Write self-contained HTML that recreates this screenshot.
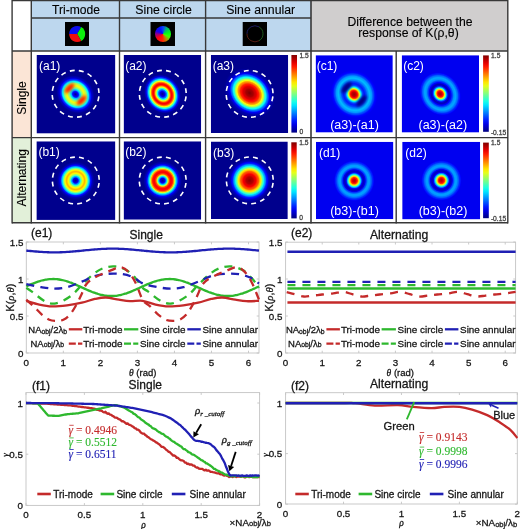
<!DOCTYPE html>
<html><head><meta charset="utf-8"><style>
html,body{margin:0;padding:0;background:#fff;}
body{width:520px;height:529px;overflow:hidden;position:relative;}
svg{position:absolute;left:0;top:0;}
svg text{font-family:"Liberation Sans",Arial,sans-serif;stroke-width:0.28px;}
svg text.h{stroke-width:0.12px;}
.sc{position:absolute;left:154.8px;top:25.8px;width:16px;height:16px;border-radius:50%;
background:conic-gradient(from 0deg,#0a3cff 0deg,#00b870 35deg,#00ff10 80deg,#40ff00 115deg,#c08000 150deg,#ff2000 185deg,#ff0010 230deg,#a0007a 265deg,#2000f0 295deg,#0010ff 330deg,#0a3cff 360deg);filter:blur(0.6px);}
</style></head><body>
<svg width="520" height="529" viewBox="0 0 520 529">
<defs>
<filter id="blur1" x="-50%" y="-50%" width="200%" height="200%"><feGaussianBlur stdDeviation="1.6"/></filter>
<filter id="soft" x="-20%" y="-20%" width="140%" height="140%"><feGaussianBlur stdDeviation="0.4"/></filter>
<radialGradient id="g1" gradientUnits="userSpaceOnUse" cx="0" cy="0" r="24"><stop offset="0.000" stop-color="#00008d"/><stop offset="0.025" stop-color="#00009d"/><stop offset="0.050" stop-color="#0000c0"/><stop offset="0.075" stop-color="#0000e5"/><stop offset="0.100" stop-color="#0000f9"/><stop offset="0.125" stop-color="#001cff"/><stop offset="0.150" stop-color="#0076ff"/><stop offset="0.175" stop-color="#00c4ff"/><stop offset="0.200" stop-color="#00ddff"/><stop offset="0.225" stop-color="#25ffda"/><stop offset="0.250" stop-color="#76ff89"/><stop offset="0.275" stop-color="#95ff6a"/><stop offset="0.300" stop-color="#b1ff4e"/><stop offset="0.325" stop-color="#ddff22"/><stop offset="0.350" stop-color="#f9ff06"/><stop offset="0.375" stop-color="#efff10"/><stop offset="0.400" stop-color="#d1ff2e"/><stop offset="0.425" stop-color="#b7ff48"/><stop offset="0.450" stop-color="#a8ff57"/><stop offset="0.475" stop-color="#69ff96"/><stop offset="0.500" stop-color="#20ffdf"/><stop offset="0.525" stop-color="#04fffb"/><stop offset="0.550" stop-color="#00c8ff"/><stop offset="0.575" stop-color="#006aff"/><stop offset="0.600" stop-color="#002fff"/><stop offset="0.625" stop-color="#001cff"/><stop offset="0.650" stop-color="#0000ec"/><stop offset="0.675" stop-color="#0000c4"/><stop offset="0.700" stop-color="#0000bb"/><stop offset="0.725" stop-color="#0000af"/><stop offset="0.750" stop-color="#00009e"/><stop offset="0.775" stop-color="#000090"/><stop offset="0.800" stop-color="#00008d"/><stop offset="0.825" stop-color="#00008d"/><stop offset="0.850" stop-color="#00008d"/><stop offset="0.875" stop-color="#00008d"/><stop offset="0.900" stop-color="#00008d"/><stop offset="0.925" stop-color="#00008d"/><stop offset="0.950" stop-color="#00008d"/><stop offset="0.975" stop-color="#00008d"/><stop offset="1.000" stop-color="#00008d"/></radialGradient>
<clipPath id="c1"><rect x="36.5" y="55" width="78.9" height="78.6"/></clipPath>
<radialGradient id="g2" gradientUnits="userSpaceOnUse" cx="0" cy="0" r="24"><stop offset="0.000" stop-color="#00008d"/><stop offset="0.025" stop-color="#00009c"/><stop offset="0.050" stop-color="#0000b9"/><stop offset="0.075" stop-color="#0000cf"/><stop offset="0.100" stop-color="#0000e3"/><stop offset="0.125" stop-color="#0025ff"/><stop offset="0.150" stop-color="#005cff"/><stop offset="0.175" stop-color="#0089ff"/><stop offset="0.200" stop-color="#05fffa"/><stop offset="0.225" stop-color="#39ffc6"/><stop offset="0.250" stop-color="#aaff55"/><stop offset="0.275" stop-color="#faff05"/><stop offset="0.300" stop-color="#ffad00"/><stop offset="0.325" stop-color="#ff5700"/><stop offset="0.350" stop-color="#ff1b00"/><stop offset="0.375" stop-color="#fb0000"/><stop offset="0.400" stop-color="#ff0400"/><stop offset="0.425" stop-color="#ff2100"/><stop offset="0.450" stop-color="#ff5f00"/><stop offset="0.475" stop-color="#ff9e00"/><stop offset="0.500" stop-color="#fdff02"/><stop offset="0.525" stop-color="#beff41"/><stop offset="0.550" stop-color="#46ffb9"/><stop offset="0.575" stop-color="#19ffe6"/><stop offset="0.600" stop-color="#00a9ff"/><stop offset="0.625" stop-color="#0061ff"/><stop offset="0.650" stop-color="#0034ff"/><stop offset="0.675" stop-color="#0000e7"/><stop offset="0.700" stop-color="#0000cf"/><stop offset="0.725" stop-color="#0000b7"/><stop offset="0.750" stop-color="#000098"/><stop offset="0.775" stop-color="#00008d"/><stop offset="0.800" stop-color="#00008d"/><stop offset="0.825" stop-color="#00008d"/><stop offset="0.850" stop-color="#00008d"/><stop offset="0.875" stop-color="#00008d"/><stop offset="0.900" stop-color="#00008d"/><stop offset="0.925" stop-color="#00008d"/><stop offset="0.950" stop-color="#00008d"/><stop offset="0.975" stop-color="#00008d"/><stop offset="1.000" stop-color="#00008d"/></radialGradient>
<clipPath id="c2"><rect x="123.6" y="55" width="77.6" height="78.6"/></clipPath>
<radialGradient id="g3" gradientUnits="userSpaceOnUse" cx="0" cy="0" r="24"><stop offset="0.000" stop-color="#800000"/><stop offset="0.025" stop-color="#840000"/><stop offset="0.050" stop-color="#8e0000"/><stop offset="0.075" stop-color="#980000"/><stop offset="0.100" stop-color="#9e0000"/><stop offset="0.125" stop-color="#a30000"/><stop offset="0.150" stop-color="#b30000"/><stop offset="0.175" stop-color="#c50000"/><stop offset="0.200" stop-color="#d00000"/><stop offset="0.225" stop-color="#d60000"/><stop offset="0.250" stop-color="#ea0000"/><stop offset="0.275" stop-color="#ff0400"/><stop offset="0.300" stop-color="#ff1700"/><stop offset="0.325" stop-color="#ff2000"/><stop offset="0.350" stop-color="#ff4900"/><stop offset="0.375" stop-color="#ff7800"/><stop offset="0.400" stop-color="#ff8b00"/><stop offset="0.425" stop-color="#ffb800"/><stop offset="0.450" stop-color="#ffff00"/><stop offset="0.475" stop-color="#d2ff2d"/><stop offset="0.500" stop-color="#b4ff4b"/><stop offset="0.525" stop-color="#68ff97"/><stop offset="0.550" stop-color="#25ffda"/><stop offset="0.575" stop-color="#0ffff0"/><stop offset="0.600" stop-color="#00cfff"/><stop offset="0.625" stop-color="#0086ff"/><stop offset="0.650" stop-color="#006aff"/><stop offset="0.675" stop-color="#003fff"/><stop offset="0.700" stop-color="#0000ff"/><stop offset="0.725" stop-color="#0000e5"/><stop offset="0.750" stop-color="#0000d4"/><stop offset="0.775" stop-color="#0000ba"/><stop offset="0.800" stop-color="#0000a9"/><stop offset="0.825" stop-color="#0000a6"/><stop offset="0.850" stop-color="#00009e"/><stop offset="0.875" stop-color="#000095"/><stop offset="0.900" stop-color="#00008e"/><stop offset="0.925" stop-color="#00008d"/><stop offset="0.950" stop-color="#00008d"/><stop offset="0.975" stop-color="#00008d"/><stop offset="1.000" stop-color="#00008d"/></radialGradient>
<clipPath id="c3"><rect x="210.8" y="55" width="77.4" height="78"/></clipPath>
<linearGradient id="cb4" x1="0" y1="0" x2="0" y2="1"><stop offset="0.000" stop-color="#800000"/><stop offset="0.050" stop-color="#b30000"/><stop offset="0.100" stop-color="#e50000"/><stop offset="0.150" stop-color="#ff1a00"/><stop offset="0.200" stop-color="#ff4c00"/><stop offset="0.250" stop-color="#ff8000"/><stop offset="0.300" stop-color="#ffb300"/><stop offset="0.350" stop-color="#ffe500"/><stop offset="0.400" stop-color="#e5ff1a"/><stop offset="0.450" stop-color="#b3ff4c"/><stop offset="0.500" stop-color="#80ff80"/><stop offset="0.550" stop-color="#4cffb3"/><stop offset="0.600" stop-color="#1affe5"/><stop offset="0.650" stop-color="#00e5ff"/><stop offset="0.700" stop-color="#00b3ff"/><stop offset="0.750" stop-color="#0080ff"/><stop offset="0.800" stop-color="#004cff"/><stop offset="0.850" stop-color="#001aff"/><stop offset="0.900" stop-color="#0000e5"/><stop offset="0.950" stop-color="#0000b3"/><stop offset="1.000" stop-color="#000080"/></linearGradient>
<radialGradient id="g5" gradientUnits="userSpaceOnUse" cx="0" cy="0" r="26"><stop offset="0.000" stop-color="#9e0000"/><stop offset="0.025" stop-color="#a70000"/><stop offset="0.050" stop-color="#b70000"/><stop offset="0.075" stop-color="#bf0000"/><stop offset="0.100" stop-color="#e60000"/><stop offset="0.125" stop-color="#ff0d00"/><stop offset="0.150" stop-color="#ff4f00"/><stop offset="0.175" stop-color="#ffca00"/><stop offset="0.200" stop-color="#d8ff27"/><stop offset="0.225" stop-color="#4effb1"/><stop offset="0.250" stop-color="#00e9ff"/><stop offset="0.275" stop-color="#009aff"/><stop offset="0.300" stop-color="#0053ff"/><stop offset="0.325" stop-color="#0035ff"/><stop offset="0.350" stop-color="#0020ff"/><stop offset="0.375" stop-color="#001dff"/><stop offset="0.400" stop-color="#0034ff"/><stop offset="0.425" stop-color="#0043ff"/><stop offset="0.450" stop-color="#005fff"/><stop offset="0.475" stop-color="#0085ff"/><stop offset="0.500" stop-color="#0091ff"/><stop offset="0.525" stop-color="#00acff"/><stop offset="0.550" stop-color="#00bdff"/><stop offset="0.575" stop-color="#00b3ff"/><stop offset="0.600" stop-color="#00a2ff"/><stop offset="0.625" stop-color="#0099ff"/><stop offset="0.650" stop-color="#0072ff"/><stop offset="0.675" stop-color="#004eff"/><stop offset="0.700" stop-color="#003fff"/><stop offset="0.725" stop-color="#001aff"/><stop offset="0.750" stop-color="#0005ff"/><stop offset="0.775" stop-color="#0000ff"/><stop offset="0.800" stop-color="#0000f5"/><stop offset="0.825" stop-color="#0000f0"/><stop offset="0.850" stop-color="#0000f0"/><stop offset="0.875" stop-color="#0000f0"/><stop offset="0.900" stop-color="#0000f0"/><stop offset="0.925" stop-color="#0000f0"/><stop offset="0.950" stop-color="#0000f0"/><stop offset="0.975" stop-color="#0000f0"/><stop offset="1.000" stop-color="#0000f0"/></radialGradient>
<clipPath id="c5"><rect x="315.6" y="55.2" width="77.2" height="77.4"/></clipPath>
<radialGradient id="g6" gradientUnits="userSpaceOnUse" cx="0" cy="0" r="26"><stop offset="0.000" stop-color="#a80000"/><stop offset="0.025" stop-color="#b50000"/><stop offset="0.050" stop-color="#c50000"/><stop offset="0.075" stop-color="#d90000"/><stop offset="0.100" stop-color="#ff0b00"/><stop offset="0.125" stop-color="#ff2c00"/><stop offset="0.150" stop-color="#ffb000"/><stop offset="0.175" stop-color="#fff400"/><stop offset="0.200" stop-color="#65ff9a"/><stop offset="0.225" stop-color="#14ffeb"/><stop offset="0.250" stop-color="#0084ff"/><stop offset="0.275" stop-color="#003dff"/><stop offset="0.300" stop-color="#0000e6"/><stop offset="0.325" stop-color="#0000cf"/><stop offset="0.350" stop-color="#0000b3"/><stop offset="0.375" stop-color="#0000c7"/><stop offset="0.400" stop-color="#0000ec"/><stop offset="0.425" stop-color="#0000ff"/><stop offset="0.450" stop-color="#002fff"/><stop offset="0.475" stop-color="#0044ff"/><stop offset="0.500" stop-color="#006bff"/><stop offset="0.525" stop-color="#0092ff"/><stop offset="0.550" stop-color="#0098ff"/><stop offset="0.575" stop-color="#00a3ff"/><stop offset="0.600" stop-color="#00a8ff"/><stop offset="0.625" stop-color="#0093ff"/><stop offset="0.650" stop-color="#007aff"/><stop offset="0.675" stop-color="#006dff"/><stop offset="0.700" stop-color="#0046ff"/><stop offset="0.725" stop-color="#0025ff"/><stop offset="0.750" stop-color="#001aff"/><stop offset="0.775" stop-color="#0000ff"/><stop offset="0.800" stop-color="#0000f0"/><stop offset="0.825" stop-color="#0000f0"/><stop offset="0.850" stop-color="#0000f0"/><stop offset="0.875" stop-color="#0000f0"/><stop offset="0.900" stop-color="#0000f0"/><stop offset="0.925" stop-color="#0000f0"/><stop offset="0.950" stop-color="#0000f0"/><stop offset="0.975" stop-color="#0000f0"/><stop offset="1.000" stop-color="#0000f0"/></radialGradient>
<clipPath id="c6"><rect x="401.7" y="55.2" width="77.3" height="77.4"/></clipPath>
<linearGradient id="cb7" x1="0" y1="0" x2="0" y2="1"><stop offset="0.000" stop-color="#800000"/><stop offset="0.050" stop-color="#b30000"/><stop offset="0.100" stop-color="#e50000"/><stop offset="0.150" stop-color="#ff1a00"/><stop offset="0.200" stop-color="#ff4c00"/><stop offset="0.250" stop-color="#ff8000"/><stop offset="0.300" stop-color="#ffb300"/><stop offset="0.350" stop-color="#ffe500"/><stop offset="0.400" stop-color="#e5ff1a"/><stop offset="0.450" stop-color="#b3ff4c"/><stop offset="0.500" stop-color="#80ff80"/><stop offset="0.550" stop-color="#4cffb3"/><stop offset="0.600" stop-color="#1affe5"/><stop offset="0.650" stop-color="#00e5ff"/><stop offset="0.700" stop-color="#00b3ff"/><stop offset="0.750" stop-color="#0080ff"/><stop offset="0.800" stop-color="#004cff"/><stop offset="0.850" stop-color="#001aff"/><stop offset="0.900" stop-color="#0000e5"/><stop offset="0.950" stop-color="#0000b3"/><stop offset="1.000" stop-color="#000080"/></linearGradient>
<radialGradient id="g8" gradientUnits="userSpaceOnUse" cx="0" cy="0" r="24"><stop offset="0.000" stop-color="#00008d"/><stop offset="0.025" stop-color="#00009d"/><stop offset="0.050" stop-color="#0000bf"/><stop offset="0.075" stop-color="#0000de"/><stop offset="0.100" stop-color="#0000ec"/><stop offset="0.125" stop-color="#003cff"/><stop offset="0.150" stop-color="#0099ff"/><stop offset="0.175" stop-color="#00baff"/><stop offset="0.200" stop-color="#11ffee"/><stop offset="0.225" stop-color="#78ff87"/><stop offset="0.250" stop-color="#99ff66"/><stop offset="0.275" stop-color="#ccff33"/><stop offset="0.300" stop-color="#fffa00"/><stop offset="0.325" stop-color="#ffe900"/><stop offset="0.350" stop-color="#ffc800"/><stop offset="0.375" stop-color="#ffb300"/><stop offset="0.400" stop-color="#ffc800"/><stop offset="0.425" stop-color="#ffe900"/><stop offset="0.450" stop-color="#ffff00"/><stop offset="0.475" stop-color="#b2ff4d"/><stop offset="0.500" stop-color="#80ff80"/><stop offset="0.525" stop-color="#3fffc0"/><stop offset="0.550" stop-color="#00daff"/><stop offset="0.575" stop-color="#00b8ff"/><stop offset="0.600" stop-color="#0063ff"/><stop offset="0.625" stop-color="#0016ff"/><stop offset="0.650" stop-color="#0004ff"/><stop offset="0.675" stop-color="#0000d9"/><stop offset="0.700" stop-color="#0000b6"/><stop offset="0.725" stop-color="#0000af"/><stop offset="0.750" stop-color="#0000a0"/><stop offset="0.775" stop-color="#000091"/><stop offset="0.800" stop-color="#00008d"/><stop offset="0.825" stop-color="#00008d"/><stop offset="0.850" stop-color="#00008d"/><stop offset="0.875" stop-color="#00008d"/><stop offset="0.900" stop-color="#00008d"/><stop offset="0.925" stop-color="#00008d"/><stop offset="0.950" stop-color="#00008d"/><stop offset="0.975" stop-color="#00008d"/><stop offset="1.000" stop-color="#00008d"/></radialGradient>
<clipPath id="c8"><rect x="36.4" y="141.3" width="79" height="78.6"/></clipPath>
<radialGradient id="g9" gradientUnits="userSpaceOnUse" cx="0" cy="0" r="24"><stop offset="0.000" stop-color="#00008d"/><stop offset="0.025" stop-color="#00009d"/><stop offset="0.050" stop-color="#0000bf"/><stop offset="0.075" stop-color="#0000de"/><stop offset="0.100" stop-color="#0000ee"/><stop offset="0.125" stop-color="#004dff"/><stop offset="0.150" stop-color="#00aaff"/><stop offset="0.175" stop-color="#00e5ff"/><stop offset="0.200" stop-color="#80ff7f"/><stop offset="0.225" stop-color="#c1ff3e"/><stop offset="0.250" stop-color="#ffb100"/><stop offset="0.275" stop-color="#ff4c00"/><stop offset="0.300" stop-color="#ff3300"/><stop offset="0.325" stop-color="#ff0800"/><stop offset="0.350" stop-color="#fb0000"/><stop offset="0.375" stop-color="#ff0500"/><stop offset="0.400" stop-color="#ff0e00"/><stop offset="0.425" stop-color="#ff2800"/><stop offset="0.450" stop-color="#ff7900"/><stop offset="0.475" stop-color="#ffa200"/><stop offset="0.500" stop-color="#e5ff1a"/><stop offset="0.525" stop-color="#6fff90"/><stop offset="0.550" stop-color="#36ffc9"/><stop offset="0.575" stop-color="#00c2ff"/><stop offset="0.600" stop-color="#0097ff"/><stop offset="0.625" stop-color="#004dff"/><stop offset="0.650" stop-color="#0002ff"/><stop offset="0.675" stop-color="#0000f0"/><stop offset="0.700" stop-color="#0000cd"/><stop offset="0.725" stop-color="#0000b3"/><stop offset="0.750" stop-color="#0000ad"/><stop offset="0.775" stop-color="#00009d"/><stop offset="0.800" stop-color="#00008f"/><stop offset="0.825" stop-color="#00008d"/><stop offset="0.850" stop-color="#00008d"/><stop offset="0.875" stop-color="#00008d"/><stop offset="0.900" stop-color="#00008d"/><stop offset="0.925" stop-color="#00008d"/><stop offset="0.950" stop-color="#00008d"/><stop offset="0.975" stop-color="#00008d"/><stop offset="1.000" stop-color="#00008d"/></radialGradient>
<clipPath id="c9"><rect x="123.6" y="141.3" width="77.6" height="78.4"/></clipPath>
<radialGradient id="g10" gradientUnits="userSpaceOnUse" cx="0" cy="0" r="26"><stop offset="0.000" stop-color="#8a0000"/><stop offset="0.025" stop-color="#8e0000"/><stop offset="0.050" stop-color="#970000"/><stop offset="0.075" stop-color="#a20000"/><stop offset="0.100" stop-color="#a80000"/><stop offset="0.125" stop-color="#ad0000"/><stop offset="0.150" stop-color="#bd0000"/><stop offset="0.175" stop-color="#d20000"/><stop offset="0.200" stop-color="#e20000"/><stop offset="0.225" stop-color="#e80000"/><stop offset="0.250" stop-color="#fd0000"/><stop offset="0.275" stop-color="#ff1f00"/><stop offset="0.300" stop-color="#ff3e00"/><stop offset="0.325" stop-color="#ff4c00"/><stop offset="0.350" stop-color="#ff6500"/><stop offset="0.375" stop-color="#ff9d00"/><stop offset="0.400" stop-color="#ffd000"/><stop offset="0.425" stop-color="#ffe200"/><stop offset="0.450" stop-color="#dcff23"/><stop offset="0.475" stop-color="#8aff75"/><stop offset="0.500" stop-color="#61ff9e"/><stop offset="0.525" stop-color="#3cffc3"/><stop offset="0.550" stop-color="#00f2ff"/><stop offset="0.575" stop-color="#00b9ff"/><stop offset="0.600" stop-color="#00a4ff"/><stop offset="0.625" stop-color="#0066ff"/><stop offset="0.650" stop-color="#0025ff"/><stop offset="0.675" stop-color="#000eff"/><stop offset="0.700" stop-color="#0000f3"/><stop offset="0.725" stop-color="#0000cb"/><stop offset="0.750" stop-color="#0000b3"/><stop offset="0.775" stop-color="#0000ad"/><stop offset="0.800" stop-color="#0000a0"/><stop offset="0.825" stop-color="#000092"/><stop offset="0.850" stop-color="#00008d"/><stop offset="0.875" stop-color="#00008d"/><stop offset="0.900" stop-color="#00008d"/><stop offset="0.925" stop-color="#00008d"/><stop offset="0.950" stop-color="#00008d"/><stop offset="0.975" stop-color="#00008d"/><stop offset="1.000" stop-color="#00008d"/></radialGradient>
<clipPath id="c10"><rect x="211" y="141.5" width="76.8" height="77.6"/></clipPath>
<linearGradient id="cb11" x1="0" y1="0" x2="0" y2="1"><stop offset="0.000" stop-color="#800000"/><stop offset="0.050" stop-color="#b30000"/><stop offset="0.100" stop-color="#e50000"/><stop offset="0.150" stop-color="#ff1a00"/><stop offset="0.200" stop-color="#ff4c00"/><stop offset="0.250" stop-color="#ff8000"/><stop offset="0.300" stop-color="#ffb300"/><stop offset="0.350" stop-color="#ffe500"/><stop offset="0.400" stop-color="#e5ff1a"/><stop offset="0.450" stop-color="#b3ff4c"/><stop offset="0.500" stop-color="#80ff80"/><stop offset="0.550" stop-color="#4cffb3"/><stop offset="0.600" stop-color="#1affe5"/><stop offset="0.650" stop-color="#00e5ff"/><stop offset="0.700" stop-color="#00b3ff"/><stop offset="0.750" stop-color="#0080ff"/><stop offset="0.800" stop-color="#004cff"/><stop offset="0.850" stop-color="#001aff"/><stop offset="0.900" stop-color="#0000e5"/><stop offset="0.950" stop-color="#0000b3"/><stop offset="1.000" stop-color="#000080"/></linearGradient>
<radialGradient id="g12" gradientUnits="userSpaceOnUse" cx="0" cy="0" r="26"><stop offset="0.000" stop-color="#b30000"/><stop offset="0.025" stop-color="#bf0000"/><stop offset="0.050" stop-color="#d00000"/><stop offset="0.075" stop-color="#e30000"/><stop offset="0.100" stop-color="#ff1500"/><stop offset="0.125" stop-color="#ff3200"/><stop offset="0.150" stop-color="#ffa100"/><stop offset="0.175" stop-color="#ffe600"/><stop offset="0.200" stop-color="#afff50"/><stop offset="0.225" stop-color="#34ffcb"/><stop offset="0.250" stop-color="#00d6ff"/><stop offset="0.275" stop-color="#0079ff"/><stop offset="0.300" stop-color="#000eff"/><stop offset="0.325" stop-color="#0000e2"/><stop offset="0.350" stop-color="#0000c6"/><stop offset="0.375" stop-color="#0000c1"/><stop offset="0.400" stop-color="#0000dc"/><stop offset="0.425" stop-color="#0000ee"/><stop offset="0.450" stop-color="#002fff"/><stop offset="0.475" stop-color="#004fff"/><stop offset="0.500" stop-color="#0075ff"/><stop offset="0.525" stop-color="#009cff"/><stop offset="0.550" stop-color="#009eff"/><stop offset="0.575" stop-color="#009eff"/><stop offset="0.600" stop-color="#0099ff"/><stop offset="0.625" stop-color="#007bff"/><stop offset="0.650" stop-color="#006aff"/><stop offset="0.675" stop-color="#004eff"/><stop offset="0.700" stop-color="#002aff"/><stop offset="0.725" stop-color="#001fff"/><stop offset="0.750" stop-color="#0006ff"/><stop offset="0.775" stop-color="#0000f1"/><stop offset="0.800" stop-color="#0000f0"/><stop offset="0.825" stop-color="#0000f0"/><stop offset="0.850" stop-color="#0000f0"/><stop offset="0.875" stop-color="#0000f0"/><stop offset="0.900" stop-color="#0000f0"/><stop offset="0.925" stop-color="#0000f0"/><stop offset="0.950" stop-color="#0000f0"/><stop offset="0.975" stop-color="#0000f0"/><stop offset="1.000" stop-color="#0000f0"/></radialGradient>
<clipPath id="c12"><rect x="316" y="141.8" width="77.4" height="77.4"/></clipPath>
<radialGradient id="g13" gradientUnits="userSpaceOnUse" cx="0" cy="0" r="26"><stop offset="0.000" stop-color="#b30000"/><stop offset="0.025" stop-color="#bf0000"/><stop offset="0.050" stop-color="#d00000"/><stop offset="0.075" stop-color="#e30000"/><stop offset="0.100" stop-color="#ff1500"/><stop offset="0.125" stop-color="#ff3400"/><stop offset="0.150" stop-color="#ffad00"/><stop offset="0.175" stop-color="#ffed00"/><stop offset="0.200" stop-color="#8aff75"/><stop offset="0.225" stop-color="#2dffd2"/><stop offset="0.250" stop-color="#00b4ff"/><stop offset="0.275" stop-color="#006eff"/><stop offset="0.300" stop-color="#0000fd"/><stop offset="0.325" stop-color="#0000de"/><stop offset="0.350" stop-color="#0000c2"/><stop offset="0.375" stop-color="#0000c4"/><stop offset="0.400" stop-color="#0000e0"/><stop offset="0.425" stop-color="#0000f5"/><stop offset="0.450" stop-color="#0038ff"/><stop offset="0.475" stop-color="#0052ff"/><stop offset="0.500" stop-color="#007dff"/><stop offset="0.525" stop-color="#009eff"/><stop offset="0.550" stop-color="#009eff"/><stop offset="0.575" stop-color="#009eff"/><stop offset="0.600" stop-color="#0095ff"/><stop offset="0.625" stop-color="#0076ff"/><stop offset="0.650" stop-color="#0068ff"/><stop offset="0.675" stop-color="#0047ff"/><stop offset="0.700" stop-color="#0026ff"/><stop offset="0.725" stop-color="#001cff"/><stop offset="0.750" stop-color="#0002ff"/><stop offset="0.775" stop-color="#0000f0"/><stop offset="0.800" stop-color="#0000f0"/><stop offset="0.825" stop-color="#0000f0"/><stop offset="0.850" stop-color="#0000f0"/><stop offset="0.875" stop-color="#0000f0"/><stop offset="0.900" stop-color="#0000f0"/><stop offset="0.925" stop-color="#0000f0"/><stop offset="0.950" stop-color="#0000f0"/><stop offset="0.975" stop-color="#0000f0"/><stop offset="1.000" stop-color="#0000f0"/></radialGradient>
<clipPath id="c13"><rect x="402.2" y="141.8" width="78" height="77.6"/></clipPath>
<linearGradient id="cb14" x1="0" y1="0" x2="0" y2="1"><stop offset="0.000" stop-color="#800000"/><stop offset="0.050" stop-color="#b30000"/><stop offset="0.100" stop-color="#e50000"/><stop offset="0.150" stop-color="#ff1a00"/><stop offset="0.200" stop-color="#ff4c00"/><stop offset="0.250" stop-color="#ff8000"/><stop offset="0.300" stop-color="#ffb300"/><stop offset="0.350" stop-color="#ffe500"/><stop offset="0.400" stop-color="#e5ff1a"/><stop offset="0.450" stop-color="#b3ff4c"/><stop offset="0.500" stop-color="#80ff80"/><stop offset="0.550" stop-color="#4cffb3"/><stop offset="0.600" stop-color="#1affe5"/><stop offset="0.650" stop-color="#00e5ff"/><stop offset="0.700" stop-color="#00b3ff"/><stop offset="0.750" stop-color="#0080ff"/><stop offset="0.800" stop-color="#004cff"/><stop offset="0.850" stop-color="#001aff"/><stop offset="0.900" stop-color="#0000e5"/><stop offset="0.950" stop-color="#0000b3"/><stop offset="1.000" stop-color="#000080"/></linearGradient>
</defs>
<rect x="12" y="0" width="19" height="51" fill="#ffffff"/>
<rect x="31" y="0" width="280" height="51" fill="#bdd7ee"/>
<rect x="311" y="0" width="197" height="51" fill="#d0cece"/>
<rect x="12" y="51" width="19" height="86.5" fill="#fbe5d6"/>
<rect x="12" y="137.5" width="19" height="85.5" fill="#e2f0d9"/>
<text class="h" x="76" y="14" font-size="12.1" fill="#000" text-anchor="middle" stroke="#000">Tri-mode</text>
<text class="h" x="163.6" y="14" font-size="12.3" fill="#000" text-anchor="middle" stroke="#000">Sine circle</text>
<text class="h" x="260.7" y="14" font-size="12.3" fill="#000" text-anchor="middle" stroke="#000">Sine annular</text>
<text class="h" x="410" y="25.6" font-size="12.2" fill="#000" text-anchor="middle" stroke="#000">Difference between the</text>
<text class="h" x="408.5" y="37.2" font-size="12.2" fill="#000" text-anchor="middle" stroke="#000">response of K(ρ,θ)</text>
<text class="h" transform="translate(26.3 98) rotate(-90)" font-size="12" fill="#000" text-anchor="middle" stroke="#000">Single</text>
<text class="h" transform="translate(26.3 177.8) rotate(-90)" font-size="12" fill="#000" text-anchor="middle" stroke="#000">Alternating</text>
<rect x="65" y="22" width="24" height="24" fill="#000"/>
<g filter="url(#soft)"><path d="M77.2 34 L69.20 34.00 A8 8 0 0 1 81.20 27.07 Z" fill="#1010f0"/><path d="M77.2 34 L81.20 27.07 A8 8 0 0 1 81.20 40.93 Z" fill="#10ee10"/><path d="M77.2 34 L81.20 40.93 A8 8 0 0 1 69.20 34.00 Z" fill="#f01010"/></g>
<rect x="150.5" y="22" width="24.5" height="24" fill="#000"/>
<rect x="242.7" y="22" width="24.3" height="24" fill="#000"/>
<g fill="none" stroke-width="1" opacity="0.6"><path d="M247 33.8 A8 8 0 0 1 259 26.87" stroke="#3030a0"/><path d="M259 26.87 A8 8 0 0 1 259 40.73" stroke="#309030"/><path d="M259 40.73 A8 8 0 0 1 247 33.8" stroke="#903020"/></g>
<g clip-path="url(#c1)"><rect x="36.5" y="55" width="78.9" height="78.6" fill="#00008d"/><g transform="translate(75.5 94.3) rotate(45) scale(1.08 0.94)"><circle r="24" fill="url(#g1)"/></g><g transform="translate(75.5 94.3) rotate(-45)"><g filter="url(#blur1)" fill="#ff1800"><ellipse cx="0" cy="-8.6" rx="6.2" ry="2.6"/><ellipse cx="0" cy="8.6" rx="6.2" ry="2.6"/></g></g></g>
<circle cx="75.6" cy="93.8" r="23.4" fill="none" stroke="#fff" stroke-width="1.6" stroke-dasharray="4.9 4.29" stroke-dashoffset="6.6"/>
<text class="h" x="39" y="69.7" font-size="12" fill="#fff" text-anchor="start">(a1)</text>
<g clip-path="url(#c2)"><rect x="123.6" y="55" width="77.6" height="78.6" fill="#00008d"/><g transform="translate(162.5 94) rotate(55) scale(1.1 0.95)"><circle r="24" fill="url(#g2)"/></g></g>
<circle cx="162.8" cy="93.8" r="23.4" fill="none" stroke="#fff" stroke-width="1.6" stroke-dasharray="4.9 4.29" stroke-dashoffset="6.6"/>
<text class="h" x="125.2" y="69.8" font-size="12" fill="#fff" text-anchor="start">(a2)</text>
<g clip-path="url(#c3)"><rect x="210.8" y="55" width="77.4" height="78" fill="#00008d"/><g transform="translate(249.6 93) rotate(42) scale(1.27 1.03)"><circle r="24" fill="url(#g3)"/></g></g>
<circle cx="249.6" cy="93.9" r="23.4" fill="none" stroke="#fff" stroke-width="1.6" stroke-dasharray="4.9 4.29" stroke-dashoffset="6.6"/>
<text class="h" x="212.7" y="69.7" font-size="12" fill="#fff" text-anchor="start">(a3)</text>
<rect x="291.4" y="55" width="5.6" height="77.6" fill="url(#cb4)"/>
<text x="299.4" y="57.8" font-size="6.7" fill="#404040" stroke="#404040">1.5</text>
<text x="299.4" y="134.1" font-size="6.7" fill="#404040" stroke="#404040">0</text>
<g clip-path="url(#c5)"><rect x="315.6" y="55.2" width="77.2" height="77.4" fill="#0000f0"/><g transform="translate(354 94.3) rotate(55) scale(1.15 1.06)"><circle r="26" fill="url(#g5)"/></g><g transform="translate(354 94.3) rotate(-48)"><g filter="url(#blur1)" fill="#000080"><ellipse cx="0" cy="-10.2" rx="7" ry="3"/><ellipse cx="0" cy="10.2" rx="7" ry="3"/></g></g></g>
<text class="h" x="316.7" y="69.6" font-size="12" fill="#fff" text-anchor="start">(c1)</text>
<text class="h" x="354.5" y="128.6" font-size="12.5" fill="#fff" text-anchor="middle">(a3)-(a1)</text>
<g clip-path="url(#c6)"><rect x="401.7" y="55.2" width="77.3" height="77.4" fill="#0000f0"/><g transform="translate(440.2 93.9) rotate(55) scale(1.08 0.95)"><circle r="26" fill="url(#g6)"/></g></g>
<text class="h" x="403.2" y="69.6" font-size="12" fill="#fff" text-anchor="start">(c2)</text>
<text class="h" x="442.8" y="129" font-size="12.5" fill="#fff" text-anchor="middle">(a3)-(a2)</text>
<rect x="483.1" y="55.4" width="5.7" height="76.4" fill="url(#cb7)"/>
<text x="491.1" y="58.2" font-size="6.7" fill="#404040" stroke="#404040">1.5</text>
<text x="490.9" y="134.8" font-size="6.7" fill="#404040" stroke="#404040">-0.15</text>
<g clip-path="url(#c8)"><rect x="36.4" y="141.3" width="79" height="78.6" fill="#00008d"/><g transform="translate(75.6 180.6) rotate(0) scale(1 1)"><circle r="24" fill="url(#g8)"/></g></g>
<circle cx="75.8" cy="180.5" r="23.4" fill="none" stroke="#fff" stroke-width="1.6" stroke-dasharray="4.9 4.29" stroke-dashoffset="6.6"/>
<text class="h" x="38.4" y="156.2" font-size="12" fill="#fff" text-anchor="start">(b1)</text>
<g clip-path="url(#c9)"><rect x="123.6" y="141.3" width="77.6" height="78.4" fill="#00008d"/><g transform="translate(162.6 180.6) rotate(0) scale(1 1)"><circle r="24" fill="url(#g9)"/></g></g>
<circle cx="162.7" cy="180.5" r="23.4" fill="none" stroke="#fff" stroke-width="1.6" stroke-dasharray="4.9 4.29" stroke-dashoffset="6.6"/>
<text class="h" x="125.2" y="156.2" font-size="12" fill="#fff" text-anchor="start">(b2)</text>
<g clip-path="url(#c10)"><rect x="211" y="141.5" width="76.8" height="77.6" fill="#00008d"/><g transform="translate(249.6 180.4) rotate(0) scale(1 1)"><circle r="26" fill="url(#g10)"/></g></g>
<circle cx="249.8" cy="180.4" r="23.4" fill="none" stroke="#fff" stroke-width="1.6" stroke-dasharray="4.9 4.29" stroke-dashoffset="6.6"/>
<text class="h" x="213" y="156.6" font-size="12" fill="#fff" text-anchor="start">(b3)</text>
<rect x="291.3" y="142.3" width="5.4" height="76.1" fill="url(#cb11)"/>
<text x="299.3" y="145.1" font-size="6.7" fill="#404040" stroke="#404040">1.5</text>
<text x="299.3" y="219.9" font-size="6.7" fill="#404040" stroke="#404040">0</text>
<g clip-path="url(#c12)"><rect x="316" y="141.8" width="77.4" height="77.4" fill="#0000f0"/><g transform="translate(354.2 180.7) rotate(0) scale(1 1)"><circle r="26" fill="url(#g12)"/></g></g>
<text class="h" x="318.9" y="157" font-size="12" fill="#fff" text-anchor="start">(d1)</text>
<text class="h" x="354.5" y="215.2" font-size="12.5" fill="#fff" text-anchor="middle">(b3)-(b1)</text>
<g clip-path="url(#c13)"><rect x="402.2" y="141.8" width="78" height="77.6" fill="#0000f0"/><g transform="translate(441.4 180.4) rotate(0) scale(1 1)"><circle r="26" fill="url(#g13)"/></g></g>
<text class="h" x="405.3" y="157.4" font-size="12" fill="#fff" text-anchor="start">(d2)</text>
<text class="h" x="443" y="215.4" font-size="12.5" fill="#fff" text-anchor="middle">(b3)-(b2)</text>
<rect x="483.1" y="142.6" width="5.7" height="75.6" fill="url(#cb14)"/>
<text x="491.1" y="145.4" font-size="6.7" fill="#404040" stroke="#404040">1.5</text>
<text x="490.9" y="221.2" font-size="6.7" fill="#404040" stroke="#404040">-0.15</text>
<line x1="12" y1="0.6" x2="508" y2="0.6" stroke="#383838" stroke-width="1.4"/>
<line x1="31" y1="18" x2="311" y2="18" stroke="#383838" stroke-width="1.4"/>
<line x1="12" y1="51" x2="508" y2="51" stroke="#383838" stroke-width="1.4"/>
<line x1="12" y1="137.6" x2="508" y2="137.6" stroke="#383838" stroke-width="1.4"/>
<line x1="12" y1="222.8" x2="508" y2="222.8" stroke="#383838" stroke-width="1.4"/>
<line x1="12.1" y1="0" x2="12.1" y2="223.5" stroke="#383838" stroke-width="1.4"/>
<line x1="31.3" y1="0" x2="31.3" y2="223.5" stroke="#383838" stroke-width="1.4"/>
<line x1="119.5" y1="0" x2="119.5" y2="223.5" stroke="#383838" stroke-width="1.4"/>
<line x1="205.6" y1="0" x2="205.6" y2="223.5" stroke="#383838" stroke-width="1.4"/>
<line x1="311" y1="0" x2="311" y2="223.5" stroke="#383838" stroke-width="1.6"/>
<line x1="396.2" y1="51" x2="396.2" y2="223.5" stroke="#383838" stroke-width="1.4"/>
<line x1="507.8" y1="0" x2="507.8" y2="223.5" stroke="#383838" stroke-width="1.4"/>
<rect x="26.3" y="242" width="232.7" height="111" fill="#fff" stroke="#c4c4c4" stroke-width="0.9"/>
<line x1="26.3" y1="353" x2="26.3" y2="350.7" stroke="#c4c4c4" stroke-width="0.9"/>
<line x1="26.3" y1="242" x2="26.3" y2="244.3" stroke="#c4c4c4" stroke-width="0.9"/>
<line x1="63.3354" y1="353" x2="63.3354" y2="350.7" stroke="#c4c4c4" stroke-width="0.9"/>
<line x1="63.3354" y1="242" x2="63.3354" y2="244.3" stroke="#c4c4c4" stroke-width="0.9"/>
<line x1="100.371" y1="353" x2="100.371" y2="350.7" stroke="#c4c4c4" stroke-width="0.9"/>
<line x1="100.371" y1="242" x2="100.371" y2="244.3" stroke="#c4c4c4" stroke-width="0.9"/>
<line x1="137.406" y1="353" x2="137.406" y2="350.7" stroke="#c4c4c4" stroke-width="0.9"/>
<line x1="137.406" y1="242" x2="137.406" y2="244.3" stroke="#c4c4c4" stroke-width="0.9"/>
<line x1="174.441" y1="353" x2="174.441" y2="350.7" stroke="#c4c4c4" stroke-width="0.9"/>
<line x1="174.441" y1="242" x2="174.441" y2="244.3" stroke="#c4c4c4" stroke-width="0.9"/>
<line x1="211.477" y1="353" x2="211.477" y2="350.7" stroke="#c4c4c4" stroke-width="0.9"/>
<line x1="211.477" y1="242" x2="211.477" y2="244.3" stroke="#c4c4c4" stroke-width="0.9"/>
<line x1="248.512" y1="353" x2="248.512" y2="350.7" stroke="#c4c4c4" stroke-width="0.9"/>
<line x1="248.512" y1="242" x2="248.512" y2="244.3" stroke="#c4c4c4" stroke-width="0.9"/>
<line x1="26.3" y1="353" x2="28.6" y2="353" stroke="#c4c4c4" stroke-width="0.9"/>
<line x1="259" y1="353" x2="256.7" y2="353" stroke="#c4c4c4" stroke-width="0.9"/>
<line x1="26.3" y1="316" x2="28.6" y2="316" stroke="#c4c4c4" stroke-width="0.9"/>
<line x1="259" y1="316" x2="256.7" y2="316" stroke="#c4c4c4" stroke-width="0.9"/>
<line x1="26.3" y1="279" x2="28.6" y2="279" stroke="#c4c4c4" stroke-width="0.9"/>
<line x1="259" y1="279" x2="256.7" y2="279" stroke="#c4c4c4" stroke-width="0.9"/>
<line x1="26.3" y1="242" x2="28.6" y2="242" stroke="#c4c4c4" stroke-width="0.9"/>
<line x1="259" y1="242" x2="256.7" y2="242" stroke="#c4c4c4" stroke-width="0.9"/>
<path d="M26.30 286.40 C26.62 286.25 27.59 285.81 28.24 285.52 C28.89 285.24 29.53 284.95 30.18 284.67 C30.82 284.39 31.47 284.11 32.12 283.85 C32.76 283.58 33.41 283.32 34.06 283.06 C34.70 282.81 35.35 282.57 36.00 282.33 C36.64 282.09 37.29 281.87 37.94 281.65 C38.58 281.44 39.23 281.23 39.87 281.04 C40.52 280.85 41.17 280.67 41.81 280.50 C42.46 280.33 43.11 280.17 43.75 280.03 C44.40 279.89 45.05 279.76 45.69 279.65 C46.34 279.53 46.98 279.43 47.63 279.35 C48.28 279.27 48.92 279.20 49.57 279.14 C50.22 279.09 50.86 279.05 51.51 279.03 C52.16 279.00 52.80 279.00 53.45 279.00 C54.09 279.01 54.74 279.03 55.39 279.07 C56.03 279.11 56.68 279.17 57.33 279.23 C57.97 279.30 58.62 279.39 59.27 279.49 C59.91 279.59 60.56 279.70 61.20 279.83 C61.85 279.96 62.50 280.10 63.14 280.25 C63.79 280.41 64.44 280.58 65.08 280.76 C65.73 280.94 66.38 281.13 67.02 281.34 C67.67 281.54 68.32 281.76 68.96 281.98 C69.61 282.21 70.25 282.44 70.90 282.69 C71.55 282.93 72.19 283.19 72.84 283.45 C73.49 283.71 74.13 283.98 74.78 284.25 C75.43 284.53 76.07 284.81 76.72 285.09 C77.36 285.38 78.01 285.67 78.66 285.96 C79.30 286.25 79.95 286.55 80.60 286.84 C81.24 287.14 81.89 287.44 82.54 287.73 C83.18 288.03 83.83 288.33 84.47 288.62 C85.12 288.91 85.77 289.21 86.41 289.50 C87.06 289.78 87.71 290.07 88.35 290.35 C89.00 290.63 89.65 290.91 90.29 291.17 C90.94 291.44 91.59 291.70 92.23 291.96 C92.88 292.21 93.52 292.45 94.17 292.69 C94.82 292.93 95.46 293.15 96.11 293.37 C96.76 293.58 97.40 293.79 98.05 293.98 C98.70 294.17 99.34 294.35 99.99 294.52 C100.63 294.69 101.28 294.85 101.93 294.99 C102.57 295.13 103.22 295.26 103.87 295.37 C104.51 295.49 105.16 295.59 105.81 295.67 C106.45 295.75 107.10 295.82 107.74 295.88 C108.39 295.93 109.04 295.97 109.68 295.99 C110.33 296.02 110.98 296.02 111.62 296.02 C112.27 296.01 112.92 295.99 113.56 295.95 C114.21 295.91 114.86 295.85 115.50 295.79 C116.15 295.72 116.79 295.63 117.44 295.53 C118.09 295.43 118.73 295.32 119.38 295.19 C120.03 295.06 120.67 294.92 121.32 294.77 C121.97 294.61 122.61 294.44 123.26 294.26 C123.90 294.08 124.55 293.89 125.20 293.68 C125.84 293.48 126.49 293.26 127.14 293.04 C127.78 292.81 128.43 292.58 129.08 292.33 C129.72 292.09 130.37 291.83 131.02 291.57 C131.66 291.31 132.31 291.04 132.95 290.77 C133.60 290.49 134.25 290.21 134.89 289.93 C135.54 289.64 136.19 289.35 136.83 289.06 C137.48 288.77 138.13 288.47 138.77 288.18 C139.42 287.88 140.06 287.58 140.71 287.29 C141.36 286.99 142.00 286.69 142.65 286.40 C143.30 286.11 143.94 285.81 144.59 285.52 C145.24 285.24 145.88 284.95 146.53 284.67 C147.17 284.39 147.82 284.11 148.47 283.85 C149.11 283.58 149.76 283.32 150.41 283.06 C151.05 282.81 151.70 282.57 152.35 282.33 C152.99 282.09 153.64 281.87 154.28 281.65 C154.93 281.44 155.58 281.23 156.22 281.04 C156.87 280.85 157.52 280.67 158.16 280.50 C158.81 280.33 159.46 280.17 160.10 280.03 C160.75 279.89 161.40 279.76 162.04 279.65 C162.69 279.53 163.33 279.43 163.98 279.35 C164.63 279.27 165.27 279.20 165.92 279.14 C166.57 279.09 167.21 279.05 167.86 279.03 C168.51 279.00 169.15 279.00 169.80 279.00 C170.44 279.01 171.09 279.03 171.74 279.07 C172.38 279.11 173.03 279.17 173.68 279.23 C174.32 279.30 174.97 279.39 175.62 279.49 C176.26 279.59 176.91 279.70 177.56 279.83 C178.20 279.96 178.85 280.10 179.49 280.25 C180.14 280.41 180.79 280.58 181.43 280.76 C182.08 280.94 182.73 281.13 183.37 281.34 C184.02 281.54 184.67 281.76 185.31 281.98 C185.96 282.21 186.60 282.44 187.25 282.69 C187.90 282.93 188.54 283.19 189.19 283.45 C189.84 283.71 190.48 283.98 191.13 284.25 C191.78 284.53 192.42 284.81 193.07 285.09 C193.71 285.38 194.36 285.67 195.01 285.96 C195.65 286.25 196.30 286.55 196.95 286.84 C197.59 287.14 198.24 287.44 198.89 287.73 C199.53 288.03 200.18 288.33 200.82 288.62 C201.47 288.91 202.12 289.21 202.76 289.50 C203.41 289.78 204.06 290.07 204.70 290.35 C205.35 290.63 206.00 290.91 206.64 291.17 C207.29 291.44 207.94 291.70 208.58 291.96 C209.23 292.21 209.87 292.45 210.52 292.69 C211.17 292.93 211.81 293.15 212.46 293.37 C213.11 293.58 213.75 293.79 214.40 293.98 C215.05 294.17 215.69 294.35 216.34 294.52 C216.98 294.69 217.63 294.85 218.28 294.99 C218.92 295.13 219.57 295.26 220.22 295.37 C220.86 295.49 221.51 295.59 222.16 295.67 C222.80 295.75 223.45 295.82 224.09 295.88 C224.74 295.93 225.39 295.97 226.03 295.99 C226.68 296.02 227.33 296.02 227.97 296.02 C228.62 296.01 229.27 295.99 229.91 295.95 C230.56 295.91 231.21 295.85 231.85 295.79 C232.50 295.72 233.14 295.63 233.79 295.53 C234.44 295.43 235.08 295.32 235.73 295.19 C236.38 295.06 237.02 294.92 237.67 294.77 C238.32 294.61 238.96 294.44 239.61 294.26 C240.25 294.08 240.90 293.89 241.55 293.68 C242.19 293.48 242.84 293.26 243.49 293.04 C244.13 292.81 244.78 292.58 245.43 292.33 C246.07 292.09 246.72 291.83 247.36 291.57 C248.01 291.31 248.66 291.04 249.30 290.77 C249.95 290.49 250.60 290.21 251.24 289.93 C251.89 289.64 252.54 289.35 253.18 289.06 C253.83 288.77 254.48 288.47 255.12 288.18 C255.77 287.88 256.41 287.58 257.06 287.29 C257.71 286.99 258.68 286.55 259.00 286.40" fill="none" stroke="#2eb82e" stroke-width="2.3" stroke-linejoin="round"/>
<path d="M26.30 300.83 C28.46 301.45 34.94 303.60 39.26 304.53 C43.58 305.45 47.60 306.26 52.22 306.38 C56.85 306.50 62.10 305.89 67.04 305.27 C71.98 304.65 77.22 303.73 81.85 302.68 C86.48 301.63 90.80 299.84 94.82 298.98 C98.83 298.12 101.91 297.38 105.93 297.50 C109.94 297.62 114.88 299.10 118.89 299.72 C122.90 300.34 126.04 301.01 130.00 301.20 C133.96 301.38 138.38 300.27 142.65 300.83 C146.92 301.38 151.29 303.60 155.61 304.53 C159.93 305.45 163.95 306.26 168.57 306.38 C173.20 306.50 178.45 305.89 183.39 305.27 C188.33 304.65 193.57 303.73 198.20 302.68 C202.83 301.63 207.15 299.84 211.17 298.98 C215.18 298.12 218.26 297.38 222.28 297.50 C226.29 297.62 231.23 299.10 235.24 299.72 C239.25 300.34 242.39 301.01 246.35 301.20 C250.31 301.38 256.89 300.89 259.00 300.83" fill="none" stroke="#c42a2a" stroke-width="2.3" stroke-linejoin="round"/>
<path d="M26.30 250.61 C26.62 250.64 27.59 250.74 28.24 250.80 C28.89 250.86 29.53 250.93 30.18 250.99 C30.82 251.05 31.47 251.11 32.12 251.17 C32.76 251.23 33.41 251.29 34.06 251.35 C34.70 251.41 35.35 251.46 36.00 251.52 C36.64 251.57 37.29 251.62 37.94 251.67 C38.58 251.72 39.23 251.77 39.87 251.82 C40.52 251.86 41.17 251.91 41.81 251.95 C42.46 251.99 43.11 252.03 43.75 252.06 C44.40 252.10 45.05 252.13 45.69 252.16 C46.34 252.19 46.98 252.21 47.63 252.24 C48.28 252.26 48.92 252.28 49.57 252.30 C50.22 252.31 50.86 252.33 51.51 252.34 C52.16 252.35 52.80 252.35 53.45 252.36 C54.09 252.36 54.74 252.36 55.39 252.36 C56.03 252.35 56.68 252.35 57.33 252.34 C57.97 252.33 58.62 252.31 59.27 252.30 C59.91 252.28 60.56 252.26 61.20 252.24 C61.85 252.21 62.50 252.19 63.14 252.16 C63.79 252.13 64.44 252.10 65.08 252.06 C65.73 252.03 66.38 251.99 67.02 251.95 C67.67 251.91 68.32 251.86 68.96 251.82 C69.61 251.77 70.25 251.72 70.90 251.67 C71.55 251.62 72.19 251.57 72.84 251.52 C73.49 251.46 74.13 251.41 74.78 251.35 C75.43 251.29 76.07 251.23 76.72 251.17 C77.36 251.11 78.01 251.05 78.66 250.99 C79.30 250.93 79.95 250.86 80.60 250.80 C81.24 250.74 81.89 250.67 82.54 250.61 C83.18 250.54 83.83 250.48 84.47 250.41 C85.12 250.35 85.77 250.28 86.41 250.22 C87.06 250.16 87.71 250.09 88.35 250.03 C89.00 249.97 89.65 249.91 90.29 249.85 C90.94 249.79 91.59 249.73 92.23 249.67 C92.88 249.61 93.52 249.56 94.17 249.50 C94.82 249.45 95.46 249.40 96.11 249.35 C96.76 249.30 97.40 249.25 98.05 249.20 C98.70 249.16 99.34 249.11 99.99 249.07 C100.63 249.03 101.28 248.99 101.93 248.96 C102.57 248.92 103.22 248.89 103.87 248.86 C104.51 248.83 105.16 248.81 105.81 248.78 C106.45 248.76 107.10 248.74 107.74 248.72 C108.39 248.71 109.04 248.69 109.68 248.68 C110.33 248.67 110.98 248.67 111.62 248.66 C112.27 248.66 112.92 248.66 113.56 248.66 C114.21 248.67 114.86 248.67 115.50 248.68 C116.15 248.69 116.79 248.71 117.44 248.72 C118.09 248.74 118.73 248.76 119.38 248.78 C120.03 248.81 120.67 248.83 121.32 248.86 C121.97 248.89 122.61 248.92 123.26 248.96 C123.90 248.99 124.55 249.03 125.20 249.07 C125.84 249.11 126.49 249.16 127.14 249.20 C127.78 249.25 128.43 249.30 129.08 249.35 C129.72 249.40 130.37 249.45 131.02 249.50 C131.66 249.56 132.31 249.61 132.95 249.67 C133.60 249.73 134.25 249.79 134.89 249.85 C135.54 249.91 136.19 249.97 136.83 250.03 C137.48 250.09 138.13 250.16 138.77 250.22 C139.42 250.28 140.06 250.35 140.71 250.41 C141.36 250.48 142.00 250.54 142.65 250.61 C143.30 250.67 143.94 250.74 144.59 250.80 C145.24 250.86 145.88 250.93 146.53 250.99 C147.17 251.05 147.82 251.11 148.47 251.17 C149.11 251.23 149.76 251.29 150.41 251.35 C151.05 251.41 151.70 251.46 152.35 251.52 C152.99 251.57 153.64 251.62 154.28 251.67 C154.93 251.72 155.58 251.77 156.22 251.82 C156.87 251.86 157.52 251.91 158.16 251.95 C158.81 251.99 159.46 252.03 160.10 252.06 C160.75 252.10 161.40 252.13 162.04 252.16 C162.69 252.19 163.33 252.21 163.98 252.24 C164.63 252.26 165.27 252.28 165.92 252.30 C166.57 252.31 167.21 252.33 167.86 252.34 C168.51 252.35 169.15 252.35 169.80 252.36 C170.44 252.36 171.09 252.36 171.74 252.36 C172.38 252.35 173.03 252.35 173.68 252.34 C174.32 252.33 174.97 252.31 175.62 252.30 C176.26 252.28 176.91 252.26 177.56 252.24 C178.20 252.21 178.85 252.19 179.49 252.16 C180.14 252.13 180.79 252.10 181.43 252.06 C182.08 252.03 182.73 251.99 183.37 251.95 C184.02 251.91 184.67 251.86 185.31 251.82 C185.96 251.77 186.60 251.72 187.25 251.67 C187.90 251.62 188.54 251.57 189.19 251.52 C189.84 251.46 190.48 251.41 191.13 251.35 C191.78 251.29 192.42 251.23 193.07 251.17 C193.71 251.11 194.36 251.05 195.01 250.99 C195.65 250.93 196.30 250.86 196.95 250.80 C197.59 250.74 198.24 250.67 198.89 250.61 C199.53 250.54 200.18 250.48 200.82 250.41 C201.47 250.35 202.12 250.28 202.76 250.22 C203.41 250.16 204.06 250.09 204.70 250.03 C205.35 249.97 206.00 249.91 206.64 249.85 C207.29 249.79 207.94 249.73 208.58 249.67 C209.23 249.61 209.87 249.56 210.52 249.50 C211.17 249.45 211.81 249.40 212.46 249.35 C213.11 249.30 213.75 249.25 214.40 249.20 C215.05 249.16 215.69 249.11 216.34 249.07 C216.98 249.03 217.63 248.99 218.28 248.96 C218.92 248.92 219.57 248.89 220.22 248.86 C220.86 248.83 221.51 248.81 222.16 248.78 C222.80 248.76 223.45 248.74 224.09 248.72 C224.74 248.71 225.39 248.69 226.03 248.68 C226.68 248.67 227.33 248.67 227.97 248.66 C228.62 248.66 229.27 248.66 229.91 248.66 C230.56 248.67 231.21 248.67 231.85 248.68 C232.50 248.69 233.14 248.71 233.79 248.72 C234.44 248.74 235.08 248.76 235.73 248.78 C236.38 248.81 237.02 248.83 237.67 248.86 C238.32 248.89 238.96 248.92 239.61 248.96 C240.25 248.99 240.90 249.03 241.55 249.07 C242.19 249.11 242.84 249.16 243.49 249.20 C244.13 249.25 244.78 249.30 245.43 249.35 C246.07 249.40 246.72 249.45 247.36 249.50 C248.01 249.56 248.66 249.61 249.30 249.67 C249.95 249.73 250.60 249.79 251.24 249.85 C251.89 249.91 252.54 249.97 253.18 250.03 C253.83 250.09 254.48 250.16 255.12 250.22 C255.77 250.28 256.41 250.35 257.06 250.41 C257.71 250.48 258.68 250.57 259.00 250.61" fill="none" stroke="#2020b4" stroke-width="2.3" stroke-linejoin="round"/>
<path d="M26.30 287.88 C27.23 288.50 28.77 289.36 31.86 291.58 C34.94 293.80 40.81 299.23 44.82 301.20 C48.83 303.17 51.61 304.28 55.93 303.42 C60.25 302.56 66.42 299.10 70.74 296.02 C75.06 292.94 78.03 288.62 81.85 284.92 C85.68 281.22 90.00 276.66 93.70 273.82 C97.41 270.98 100.49 269.13 104.07 267.90 C107.65 266.67 111.48 266.05 115.18 266.42 C118.89 266.79 122.90 268.15 126.30 270.12 C129.69 272.09 132.83 275.30 135.55 278.26 C138.28 281.22 140.54 285.66 142.65 287.88 C144.76 290.10 145.12 289.36 148.21 291.58 C151.29 293.80 157.16 299.23 161.17 301.20 C165.18 303.17 167.96 304.28 172.28 303.42 C176.60 302.56 182.77 299.10 187.09 296.02 C191.41 292.94 194.38 288.62 198.20 284.92 C202.03 281.22 206.35 276.66 210.05 273.82 C213.76 270.98 216.84 269.13 220.42 267.90 C224.00 266.67 227.83 266.05 231.53 266.42 C235.24 266.79 239.25 268.15 242.65 270.12 C246.04 272.09 249.18 275.30 251.90 278.26 C254.63 281.22 257.82 286.28 259.00 287.88" fill="none" stroke="#2eb82e" stroke-width="2.3" stroke-dasharray="8 6.2" stroke-linejoin="round"/>
<path d="M26.30 284.18 C28.77 284.67 36.42 286.40 41.11 287.14 C45.81 287.88 50.13 288.62 54.45 288.62 C58.77 288.62 62.47 288.31 67.04 287.14 C71.61 285.97 77.22 283.44 81.85 281.59 C86.48 279.74 90.49 277.33 94.82 276.04 C99.14 274.74 103.15 274.13 107.78 273.82 C112.41 273.51 118.27 273.57 122.59 274.19 C126.91 274.81 130.36 275.98 133.70 277.52 C137.05 279.06 138.69 281.84 142.65 283.44 C146.61 285.04 152.77 286.28 157.46 287.14 C162.16 288.00 166.48 288.62 170.80 288.62 C175.12 288.62 178.82 288.31 183.39 287.14 C187.96 285.97 193.57 283.44 198.20 281.59 C202.83 279.74 206.84 277.33 211.17 276.04 C215.49 274.74 219.50 274.13 224.13 273.82 C228.76 273.51 234.62 273.57 238.94 274.19 C243.26 274.81 246.71 275.98 250.05 277.52 C253.40 279.06 257.51 282.45 259.00 283.44" fill="none" stroke="#2020b4" stroke-width="2.3" stroke-dasharray="8 6.2" stroke-linejoin="round"/>
<path d="M26.30 299.72 C27.53 300.83 31.11 303.91 33.71 306.38 C36.30 308.85 39.26 312.30 41.85 314.52 C44.45 316.74 46.79 318.65 49.26 319.70 C51.73 320.75 54.32 320.81 56.67 320.81 C59.01 320.81 61.11 320.75 63.34 319.70 C65.56 318.65 67.84 316.99 70.00 314.52 C72.16 312.05 74.45 308.11 76.30 304.90 C78.15 301.69 79.45 298.73 81.11 295.28 C82.78 291.83 84.01 287.14 86.30 284.18 C88.58 281.22 90.62 279.86 94.82 277.52 C99.01 275.18 107.16 271.85 111.48 270.12 C115.80 268.39 117.96 266.91 120.74 267.16 C123.52 267.41 125.68 269.01 128.15 271.60 C130.62 274.19 133.14 278.01 135.55 282.70 C137.97 287.39 140.23 295.77 142.65 299.72 C145.07 303.67 147.46 303.91 150.06 306.38 C152.65 308.85 155.61 312.30 158.20 314.52 C160.80 316.74 163.14 318.65 165.61 319.70 C168.08 320.75 170.67 320.81 173.02 320.81 C175.36 320.81 177.46 320.75 179.69 319.70 C181.91 318.65 184.19 316.99 186.35 314.52 C188.51 312.05 190.80 308.11 192.65 304.90 C194.50 301.69 195.80 298.73 197.46 295.28 C199.13 291.83 200.36 287.14 202.65 284.18 C204.93 281.22 206.97 279.86 211.17 277.52 C215.36 275.18 223.51 271.85 227.83 270.12 C232.15 268.39 234.31 266.91 237.09 267.16 C239.87 267.41 242.03 269.01 244.50 271.60 C246.97 274.19 249.49 278.01 251.90 282.70 C254.32 287.39 257.82 296.88 259.00 299.72" fill="none" stroke="#c42a2a" stroke-width="2.3" stroke-dasharray="8 6.2" stroke-linejoin="round"/>
<text x="26.30" y="365.8" font-size="9.8" fill="#151515" text-anchor="middle" stroke="#151515">0</text>
<text x="63.34" y="365.8" font-size="9.8" fill="#151515" text-anchor="middle" stroke="#151515">1</text>
<text x="100.37" y="365.8" font-size="9.8" fill="#151515" text-anchor="middle" stroke="#151515">2</text>
<text x="137.41" y="365.8" font-size="9.8" fill="#151515" text-anchor="middle" stroke="#151515">3</text>
<text x="174.44" y="365.8" font-size="9.8" fill="#151515" text-anchor="middle" stroke="#151515">4</text>
<text x="211.48" y="365.8" font-size="9.8" fill="#151515" text-anchor="middle" stroke="#151515">5</text>
<text x="248.51" y="365.8" font-size="9.8" fill="#151515" text-anchor="middle" stroke="#151515">6</text>
<text x="23.4" y="356.50" font-size="9.8" fill="#151515" text-anchor="end" stroke="#151515">0</text>
<text x="23.4" y="319.50" font-size="9.8" fill="#151515" text-anchor="end" stroke="#151515">0.5</text>
<text x="23.4" y="282.50" font-size="9.8" fill="#151515" text-anchor="end" stroke="#151515">1</text>
<text x="23.4" y="245.50" font-size="9.8" fill="#151515" text-anchor="end" stroke="#151515">1.5</text>
<rect x="285.6" y="242.2" width="230" height="110.8" fill="#fff" stroke="#c4c4c4" stroke-width="0.9"/>
<line x1="285.6" y1="353" x2="285.6" y2="350.7" stroke="#c4c4c4" stroke-width="0.9"/>
<line x1="285.6" y1="242.2" x2="285.6" y2="244.5" stroke="#c4c4c4" stroke-width="0.9"/>
<line x1="322.206" y1="353" x2="322.206" y2="350.7" stroke="#c4c4c4" stroke-width="0.9"/>
<line x1="322.206" y1="242.2" x2="322.206" y2="244.5" stroke="#c4c4c4" stroke-width="0.9"/>
<line x1="358.811" y1="353" x2="358.811" y2="350.7" stroke="#c4c4c4" stroke-width="0.9"/>
<line x1="358.811" y1="242.2" x2="358.811" y2="244.5" stroke="#c4c4c4" stroke-width="0.9"/>
<line x1="395.417" y1="353" x2="395.417" y2="350.7" stroke="#c4c4c4" stroke-width="0.9"/>
<line x1="395.417" y1="242.2" x2="395.417" y2="244.5" stroke="#c4c4c4" stroke-width="0.9"/>
<line x1="432.023" y1="353" x2="432.023" y2="350.7" stroke="#c4c4c4" stroke-width="0.9"/>
<line x1="432.023" y1="242.2" x2="432.023" y2="244.5" stroke="#c4c4c4" stroke-width="0.9"/>
<line x1="468.628" y1="353" x2="468.628" y2="350.7" stroke="#c4c4c4" stroke-width="0.9"/>
<line x1="468.628" y1="242.2" x2="468.628" y2="244.5" stroke="#c4c4c4" stroke-width="0.9"/>
<line x1="505.234" y1="353" x2="505.234" y2="350.7" stroke="#c4c4c4" stroke-width="0.9"/>
<line x1="505.234" y1="242.2" x2="505.234" y2="244.5" stroke="#c4c4c4" stroke-width="0.9"/>
<line x1="285.6" y1="353" x2="287.9" y2="353" stroke="#c4c4c4" stroke-width="0.9"/>
<line x1="515.6" y1="353" x2="513.3" y2="353" stroke="#c4c4c4" stroke-width="0.9"/>
<line x1="285.6" y1="316" x2="287.9" y2="316" stroke="#c4c4c4" stroke-width="0.9"/>
<line x1="515.6" y1="316" x2="513.3" y2="316" stroke="#c4c4c4" stroke-width="0.9"/>
<line x1="285.6" y1="279" x2="287.9" y2="279" stroke="#c4c4c4" stroke-width="0.9"/>
<line x1="515.6" y1="279" x2="513.3" y2="279" stroke="#c4c4c4" stroke-width="0.9"/>
<line x1="285.6" y1="242" x2="287.9" y2="242" stroke="#c4c4c4" stroke-width="0.9"/>
<line x1="515.6" y1="242" x2="513.3" y2="242" stroke="#c4c4c4" stroke-width="0.9"/>
<line x1="287.43" y1="251.75" x2="515.6" y2="251.75" stroke="#2020b4" stroke-width="2.3"/>
<line x1="287.43" y1="288.50" x2="515.6" y2="288.50" stroke="#2eb82e" stroke-width="2.3"/>
<line x1="287.43" y1="302.50" x2="515.6" y2="302.50" stroke="#c42a2a" stroke-width="2.3"/>
<line x1="287.43" y1="281.80" x2="515.6" y2="281.80" stroke="#2020b4" stroke-width="2.3" stroke-dasharray="8 7"/>
<line x1="287.43" y1="285.20" x2="515.6" y2="285.20" stroke="#2eb82e" stroke-width="2.3" stroke-dasharray="8 7"/>
<path d="M286.70 292.10 C288.04 292.45 291.88 293.47 294.75 294.20 C297.62 294.93 300.85 296.27 303.90 296.50 C306.95 296.73 310.00 295.93 313.05 295.60 C316.10 295.27 318.85 294.87 322.21 294.50 C325.56 294.13 329.70 293.85 333.19 293.40 C336.67 292.95 339.92 291.67 343.10 291.80 C346.28 291.93 349.20 293.42 352.25 294.20 C355.30 294.98 358.35 296.27 361.40 296.50 C364.45 296.73 367.50 295.93 370.55 295.60 C373.60 295.27 376.35 294.87 379.71 294.50 C383.06 294.13 387.20 293.85 390.69 293.40 C394.17 292.95 397.42 291.67 400.60 291.80 C403.78 291.93 406.70 293.42 409.75 294.20 C412.80 294.98 415.85 296.27 418.90 296.50 C421.95 296.73 425.00 295.93 428.05 295.60 C431.10 295.27 433.85 294.87 437.21 294.50 C440.56 294.13 444.70 293.85 448.19 293.40 C451.67 292.95 454.92 291.67 458.10 291.80 C461.28 291.93 464.20 293.42 467.25 294.20 C470.30 294.98 473.35 296.27 476.40 296.50 C479.45 296.73 482.50 295.93 485.55 295.60 C488.60 295.27 491.35 294.87 494.71 294.50 C498.06 294.13 502.20 293.85 505.69 293.40 C509.17 292.95 513.95 292.07 515.60 291.80" fill="none" stroke="#c42a2a" stroke-width="2.3" stroke-dasharray="8 7" stroke-linejoin="round"/>
<text x="285.60" y="365.8" font-size="9.8" fill="#151515" text-anchor="middle" stroke="#151515">0</text>
<text x="322.21" y="365.8" font-size="9.8" fill="#151515" text-anchor="middle" stroke="#151515">1</text>
<text x="358.81" y="365.8" font-size="9.8" fill="#151515" text-anchor="middle" stroke="#151515">2</text>
<text x="395.42" y="365.8" font-size="9.8" fill="#151515" text-anchor="middle" stroke="#151515">3</text>
<text x="432.02" y="365.8" font-size="9.8" fill="#151515" text-anchor="middle" stroke="#151515">4</text>
<text x="468.63" y="365.8" font-size="9.8" fill="#151515" text-anchor="middle" stroke="#151515">5</text>
<text x="505.23" y="365.8" font-size="9.8" fill="#151515" text-anchor="middle" stroke="#151515">6</text>
<text x="282.4" y="356.50" font-size="9.8" fill="#151515" text-anchor="end" stroke="#151515">0</text>
<text x="282.4" y="319.50" font-size="9.8" fill="#151515" text-anchor="end" stroke="#151515">0.5</text>
<text x="282.4" y="282.50" font-size="9.8" fill="#151515" text-anchor="end" stroke="#151515">1</text>
<text x="282.4" y="245.50" font-size="9.8" fill="#151515" text-anchor="end" stroke="#151515">1.5</text>
<text x="31" y="236.8" font-size="12" fill="#151515" text-anchor="start" stroke="#151515">(e1)</text>
<text x="146.2" y="238.5" font-size="12" fill="#151515" text-anchor="middle" stroke="#151515">Single</text>
<text x="291" y="236.8" font-size="12" fill="#151515" text-anchor="start" stroke="#151515">(e2)</text>
<text x="399.1" y="238.5" font-size="12.2" fill="#151515" text-anchor="middle" stroke="#151515">Alternating</text>
<text x="142.7" y="375.6" font-size="9.5" fill="#151515" text-anchor="middle" stroke="#151515"><tspan style="font-family:Liberation Serif,serif;font-style:italic">θ</tspan> (rad)</text>
<text x="400.3" y="375.6" font-size="9.5" fill="#151515" text-anchor="middle" stroke="#151515"><tspan style="font-family:Liberation Serif,serif;font-style:italic">θ</tspan> (rad)</text>
<text transform="translate(13.6 297.6) rotate(-90)" font-size="10.7" fill="#151515" text-anchor="middle" stroke="#151515">K(<tspan style="font-family:Liberation Serif,serif;font-style:italic">ρ</tspan>,<tspan style="font-family:Liberation Serif,serif;font-style:italic">θ</tspan>)</text>
<text transform="translate(273.4 297.6) rotate(-90)" font-size="10.7" fill="#151515" text-anchor="middle" stroke="#151515">K(<tspan style="font-family:Liberation Serif,serif;font-style:italic">ρ</tspan>,<tspan style="font-family:Liberation Serif,serif;font-style:italic">θ</tspan>)</text>
<text x="47.65" y="333.1" font-size="9.5" fill="#151515" text-anchor="middle" stroke="#151515">NA<tspan font-size="6.8" dy="0.5">obj</tspan><tspan dy="-0.5">/2λ</tspan><tspan font-size="6.8" dy="0.5">b</tspan></text>
<line x1="68.8" y1="329.3" x2="82.3" y2="329.3" stroke="#c42a2a" stroke-width="2.3"/>
<text x="83.3" y="333.1" font-size="9.9" fill="#151515" stroke="#151515">Tri-mode</text>
<line x1="124" y1="329.3" x2="138.3" y2="329.3" stroke="#2eb82e" stroke-width="2.3"/>
<text x="140" y="333.1" font-size="9.9" fill="#151515" stroke="#151515">Sine circle</text>
<line x1="187.3" y1="329.3" x2="200.8" y2="329.3" stroke="#2020b4" stroke-width="2.3"/>
<text x="202.5" y="333.1" font-size="9.9" fill="#151515" stroke="#151515">Sine annular</text>
<text x="47.2" y="346.6" font-size="9.5" fill="#151515" text-anchor="middle" stroke="#151515">NA<tspan font-size="6.8" dy="0.5">obj</tspan><tspan dy="-0.5">/λ</tspan><tspan font-size="6.8" dy="0.5">b</tspan></text>
<line x1="68.8" y1="343.7" x2="82.3" y2="343.7" stroke="#c42a2a" stroke-width="2.3" stroke-dasharray="7 2.2"/>
<text x="83.3" y="346.6" font-size="9.9" fill="#151515" stroke="#151515">Tri-mode</text>
<line x1="124" y1="343.7" x2="138.3" y2="343.7" stroke="#2eb82e" stroke-width="2.3" stroke-dasharray="7 2.2"/>
<text x="140" y="346.6" font-size="9.9" fill="#151515" stroke="#151515">Sine circle</text>
<line x1="187.3" y1="343.7" x2="200.8" y2="343.7" stroke="#2020b4" stroke-width="2.3" stroke-dasharray="7 2.2"/>
<text x="202.5" y="346.6" font-size="9.9" fill="#151515" stroke="#151515">Sine annular</text>
<text x="305.25" y="333.1" font-size="9.5" fill="#151515" text-anchor="middle" stroke="#151515">NA<tspan font-size="6.8" dy="0.5">obj</tspan><tspan dy="-0.5">/2λ</tspan><tspan font-size="6.8" dy="0.5">b</tspan></text>
<line x1="326.4" y1="329.3" x2="339.9" y2="329.3" stroke="#c42a2a" stroke-width="2.3"/>
<text x="340.9" y="333.1" font-size="9.9" fill="#151515" stroke="#151515">Tri-mode</text>
<line x1="381.6" y1="329.3" x2="395.9" y2="329.3" stroke="#2eb82e" stroke-width="2.3"/>
<text x="397.6" y="333.1" font-size="9.9" fill="#151515" stroke="#151515">Sine circle</text>
<line x1="444.9" y1="329.3" x2="458.4" y2="329.3" stroke="#2020b4" stroke-width="2.3"/>
<text x="460.1" y="333.1" font-size="9.9" fill="#151515" stroke="#151515">Sine annular</text>
<text x="304.8" y="346.6" font-size="9.5" fill="#151515" text-anchor="middle" stroke="#151515">NA<tspan font-size="6.8" dy="0.5">obj</tspan><tspan dy="-0.5">/λ</tspan><tspan font-size="6.8" dy="0.5">b</tspan></text>
<line x1="326.4" y1="343.7" x2="339.9" y2="343.7" stroke="#c42a2a" stroke-width="2.3" stroke-dasharray="7 2.2"/>
<text x="340.9" y="346.6" font-size="9.9" fill="#151515" stroke="#151515">Tri-mode</text>
<line x1="381.6" y1="343.7" x2="395.9" y2="343.7" stroke="#2eb82e" stroke-width="2.3" stroke-dasharray="7 2.2"/>
<text x="397.6" y="346.6" font-size="9.9" fill="#151515" stroke="#151515">Sine circle</text>
<line x1="444.9" y1="343.7" x2="458.4" y2="343.7" stroke="#2020b4" stroke-width="2.3" stroke-dasharray="7 2.2"/>
<text x="460.1" y="346.6" font-size="9.9" fill="#151515" stroke="#151515">Sine annular</text>
<rect x="26" y="392.6" width="233.6" height="112.8" fill="#fff" stroke="#c4c4c4" stroke-width="0.9"/>
<line x1="26" y1="505.4" x2="26" y2="503.1" stroke="#c4c4c4" stroke-width="0.9"/>
<line x1="26" y1="392.6" x2="26" y2="394.9" stroke="#c4c4c4" stroke-width="0.9"/>
<line x1="84.4" y1="505.4" x2="84.4" y2="503.1" stroke="#c4c4c4" stroke-width="0.9"/>
<line x1="84.4" y1="392.6" x2="84.4" y2="394.9" stroke="#c4c4c4" stroke-width="0.9"/>
<line x1="142.8" y1="505.4" x2="142.8" y2="503.1" stroke="#c4c4c4" stroke-width="0.9"/>
<line x1="142.8" y1="392.6" x2="142.8" y2="394.9" stroke="#c4c4c4" stroke-width="0.9"/>
<line x1="201.2" y1="505.4" x2="201.2" y2="503.1" stroke="#c4c4c4" stroke-width="0.9"/>
<line x1="201.2" y1="392.6" x2="201.2" y2="394.9" stroke="#c4c4c4" stroke-width="0.9"/>
<line x1="259.6" y1="505.4" x2="259.6" y2="503.1" stroke="#c4c4c4" stroke-width="0.9"/>
<line x1="259.6" y1="392.6" x2="259.6" y2="394.9" stroke="#c4c4c4" stroke-width="0.9"/>
<line x1="26" y1="505.4" x2="28.3" y2="505.4" stroke="#c4c4c4" stroke-width="0.9"/>
<line x1="259.6" y1="505.4" x2="257.3" y2="505.4" stroke="#c4c4c4" stroke-width="0.9"/>
<line x1="26" y1="454.2" x2="28.3" y2="454.2" stroke="#c4c4c4" stroke-width="0.9"/>
<line x1="259.6" y1="454.2" x2="257.3" y2="454.2" stroke="#c4c4c4" stroke-width="0.9"/>
<line x1="26" y1="403" x2="28.3" y2="403" stroke="#c4c4c4" stroke-width="0.9"/>
<line x1="259.6" y1="403" x2="257.3" y2="403" stroke="#c4c4c4" stroke-width="0.9"/>
<path d="M26.00 403.00 L27.17 403.04 L28.34 403.08 L29.50 403.12 L30.67 403.16 L31.84 403.20 L33.01 403.24 L34.18 403.28 L35.34 403.32 L36.51 403.36 L37.68 403.40 L38.85 403.44 L40.02 403.48 L41.18 403.52 L42.35 403.56 L43.52 403.60 L44.69 403.64 L45.86 403.68 L47.02 403.72 L48.19 403.80 L49.36 403.89 L50.53 403.98 L51.70 404.06 L52.86 404.15 L54.03 404.24 L55.20 404.33 L56.37 404.41 L57.54 404.50 L58.70 404.59 L59.87 404.67 L61.04 404.76 L62.21 404.85 L63.38 404.94 L64.54 405.02 L65.71 405.11 L66.88 405.20 L68.05 405.28 L69.22 405.37 L70.38 405.46 L71.55 405.61 L72.72 405.76 L73.89 405.92 L75.06 406.07 L76.22 406.23 L77.39 406.38 L78.56 406.53 L79.73 406.69 L80.90 406.84 L82.06 406.99 L83.23 407.15 L84.40 407.30 L85.57 407.45 L86.74 407.61 L87.90 407.76 L89.07 407.92 L90.24 408.07 L91.41 408.22 L92.58 408.38 L93.74 408.53 L94.91 408.90 L96.08 409.27 L97.25 409.96 L98.42 409.95 L99.58 410.53 L100.75 410.61 L101.92 410.96 L103.09 412.01 L104.26 412.45 L105.42 411.80 L106.59 413.13 L107.76 413.77 L108.93 413.45 L110.10 414.71 L111.26 414.87 L112.43 415.93 L113.60 416.35 L114.77 417.56 L115.94 417.58 L117.10 417.91 L118.27 418.95 L119.44 419.29 L120.61 419.99 L121.78 421.35 L122.94 421.11 L124.11 421.93 L125.28 422.91 L126.45 423.85 L127.62 423.44 L128.78 424.54 L129.95 424.95 L131.12 425.47 L132.29 426.39 L133.46 426.85 L134.62 428.22 L135.79 428.44 L136.96 429.59 L138.13 429.70 L139.30 430.49 L140.46 432.17 L141.63 432.94 L142.80 433.66 L143.97 433.56 L145.14 435.03 L146.30 435.61 L147.47 436.83 L148.64 437.40 L149.81 438.37 L150.98 439.23 L152.14 439.76 L153.31 440.58 L154.48 441.01 L155.65 442.10 L156.82 442.61 L157.98 443.52 L159.15 444.18 L160.32 445.39 L161.49 446.83 L162.66 446.79 L163.82 447.49 L164.99 448.43 L166.16 449.71 L167.33 450.40 L168.50 451.89 L169.66 452.00 L170.83 453.19 L172.00 454.41 L173.17 455.56 L174.34 455.45 L175.50 456.16 L176.67 457.93 L177.84 457.72 L179.01 458.87 L180.18 459.85 L181.34 460.34 L182.51 460.42 L183.68 460.96 L184.85 462.64 L186.02 462.61 L187.18 463.98 L188.35 463.61 L189.52 464.55 L190.69 464.33 L191.86 464.67 L193.02 465.71 L194.19 465.57 L195.36 466.88 L196.53 467.62 L197.70 467.44 L198.86 468.60 L200.03 468.75 L201.20 468.85 L202.37 468.96 L203.54 469.88 L204.70 470.38 L205.87 469.72 L207.04 470.76 L208.21 470.33 L209.38 470.76 L210.54 471.76 L211.71 471.96 L212.88 472.20 L214.05 472.35 L215.22 472.72 L216.38 473.07 L217.55 473.30 L218.72 473.22 L219.89 474.06 L221.06 474.46 L222.22 474.41 L223.39 475.29 L224.56 475.50 L225.73 474.96 L226.90 475.81 L228.06 476.07 L229.23 477.02 L230.40 476.54 L231.57 476.36 L232.74 477.07 L233.90 476.36 L235.07 476.36 L236.24 477.08 L237.41 476.40 L238.58 476.62 L239.74 476.38 L240.91 476.80 L242.08 476.38 L243.25 476.36 L244.42 477.26 L245.58 477.24 L246.75 476.50 L247.92 476.17 L249.09 477.06 L250.26 476.83 L251.42 476.68 L252.59 477.04 L253.76 477.00 L254.93 477.08 L256.10 477.03 L257.26 476.78 L258.43 477.16 L259.60 477.08" fill="none" stroke="#c42a2a" stroke-width="2.3" stroke-linejoin="round"/>
<path d="M26.00 403.00 L27.17 403.04 L28.34 403.08 L29.50 403.12 L30.67 403.16 L31.84 403.20 L33.01 403.25 L34.18 403.29 L35.34 403.33 L36.51 403.37 L37.68 403.41 L38.85 404.76 L40.02 406.12 L41.18 407.47 L42.35 408.83 L43.52 410.18 L44.69 411.53 L45.86 412.89 L47.02 414.24 L48.19 415.60 L49.36 415.63 L50.53 415.66 L51.70 415.70 L52.86 415.73 L54.03 415.77 L55.20 415.80 L56.37 415.83 L57.54 415.87 L58.70 415.90 L59.87 415.67 L61.04 415.43 L62.21 415.20 L63.38 414.97 L64.54 414.73 L65.71 414.50 L66.88 414.26 L68.05 414.16 L69.22 414.06 L70.38 413.96 L71.55 413.85 L72.72 413.75 L73.89 413.65 L75.06 413.55 L76.22 413.44 L77.39 413.34 L78.56 413.24 L79.73 412.97 L80.90 412.69 L82.06 412.42 L83.23 412.15 L84.40 411.87 L85.57 411.60 L86.74 411.33 L87.90 411.06 L89.07 410.78 L90.24 410.56 L91.41 410.33 L92.58 410.11 L93.74 409.88 L94.91 409.66 L96.08 409.43 L97.25 409.21 L98.42 408.98 L99.58 408.75 L100.75 408.53 L101.92 408.24 L103.09 407.96 L104.26 407.67 L105.42 407.38 L106.59 407.10 L107.76 406.81 L108.93 406.52 L110.10 406.24 L111.26 405.95 L112.43 405.66 L113.60 405.46 L114.77 405.25 L115.94 405.05 L117.10 405.41 L118.27 405.78 L119.44 406.15 L120.61 406.51 L121.78 406.88 L122.94 407.24 L124.11 407.61 L125.28 408.31 L126.45 409.02 L127.62 409.72 L128.78 410.42 L129.95 411.13 L131.12 411.83 L132.29 412.31 L133.46 413.63 L134.62 414.08 L135.79 414.84 L136.96 416.08 L138.13 417.05 L139.30 417.47 L140.46 418.83 L141.63 419.77 L142.80 420.46 L143.97 421.14 L145.14 422.53 L146.30 423.24 L147.47 424.13 L148.64 424.61 L149.81 425.83 L150.98 426.39 L152.14 427.85 L153.31 428.43 L154.48 428.89 L155.65 429.41 L156.82 430.48 L157.98 431.39 L159.15 432.19 L160.32 432.57 L161.49 433.56 L162.66 433.78 L163.82 434.47 L164.99 435.84 L166.16 436.59 L167.33 436.99 L168.50 437.96 L169.66 438.65 L170.83 439.86 L172.00 440.87 L173.17 441.57 L174.34 441.93 L175.50 443.12 L176.67 443.83 L177.84 444.54 L179.01 445.31 L180.18 446.08 L181.34 446.54 L182.51 448.05 L183.68 449.05 L184.85 449.16 L186.02 450.09 L187.18 450.88 L188.35 452.21 L189.52 452.42 L190.69 453.08 L191.86 454.30 L193.02 454.51 L194.19 455.08 L195.36 455.86 L196.53 456.62 L197.70 457.44 L198.86 458.21 L200.03 459.10 L201.20 460.04 L202.37 460.42 L203.54 461.47 L204.70 461.85 L205.87 463.28 L207.04 463.38 L208.21 464.35 L209.38 464.97 L210.54 465.80 L211.71 466.60 L212.88 467.67 L214.05 468.93 L215.22 468.98 L216.38 470.08 L217.55 470.62 L218.72 470.96 L219.89 471.72 L221.06 472.45 L222.22 472.66 L223.39 473.56 L224.56 474.24 L225.73 474.76 L226.90 474.71 L228.06 475.48 L229.23 475.68 L230.40 476.07 L231.57 476.24 L232.74 476.00 L233.90 475.81 L235.07 476.37 L236.24 475.91 L237.41 475.84 L238.58 475.97 L239.74 476.00 L240.91 476.71 L242.08 476.24 L243.25 476.08 L244.42 476.79 L245.58 476.65 L246.75 476.69 L247.92 476.52 L249.09 476.64 L250.26 476.64 L251.42 476.43 L252.59 477.10 L253.76 477.10 L254.93 477.08 L256.10 477.12 L257.26 477.21 L258.43 476.50 L259.60 476.64" fill="none" stroke="#2eb82e" stroke-width="2.3" stroke-linejoin="round"/>
<path d="M26.00 403.00 L27.17 403.01 L28.34 403.01 L29.50 403.02 L30.67 403.02 L31.84 403.03 L33.01 403.03 L34.18 403.04 L35.34 403.04 L36.51 403.05 L37.68 403.05 L38.85 403.06 L40.02 403.06 L41.18 403.07 L42.35 403.07 L43.52 403.08 L44.69 403.08 L45.86 403.09 L47.02 403.09 L48.19 403.10 L49.36 403.10 L50.53 403.12 L51.70 403.14 L52.86 403.16 L54.03 403.18 L55.20 403.20 L56.37 403.23 L57.54 403.25 L58.70 403.27 L59.87 403.29 L61.04 403.31 L62.21 403.33 L63.38 403.35 L64.54 403.37 L65.71 403.39 L66.88 403.41 L68.05 403.43 L69.22 403.45 L70.38 403.47 L71.55 403.49 L72.72 403.51 L73.89 403.54 L75.06 403.57 L76.22 403.60 L77.39 403.63 L78.56 403.65 L79.73 403.68 L80.90 403.71 L82.06 403.74 L83.23 403.77 L84.40 403.80 L85.57 403.82 L86.74 403.85 L87.90 403.88 L89.07 403.91 L90.24 403.94 L91.41 403.97 L92.58 404.00 L93.74 404.02 L94.91 404.11 L96.08 404.19 L97.25 404.27 L98.42 404.35 L99.58 404.43 L100.75 404.52 L101.92 404.60 L103.09 404.68 L104.26 404.76 L105.42 404.84 L106.59 404.93 L107.76 405.01 L108.93 405.09 L110.10 405.17 L111.26 405.25 L112.43 405.33 L113.60 405.42 L114.77 405.50 L115.94 405.58 L117.10 405.66 L118.27 405.84 L119.44 406.01 L120.61 406.19 L121.78 406.36 L122.94 406.54 L124.11 406.72 L125.28 406.89 L126.45 407.07 L127.62 407.24 L128.78 407.42 L129.95 407.59 L131.12 407.77 L132.29 407.94 L133.46 408.12 L134.62 408.38 L135.79 408.63 L136.96 408.89 L138.13 409.14 L139.30 409.40 L140.46 409.66 L141.63 409.91 L142.80 410.17 L143.97 410.42 L145.14 410.68 L146.30 410.94 L147.47 411.19 L148.64 411.45 L149.81 411.70 L150.98 411.96 L152.14 412.22 L153.31 412.52 L154.48 412.83 L155.65 413.14 L156.82 413.44 L157.98 413.75 L159.15 414.06 L160.32 414.37 L161.49 414.67 L162.66 414.98 L163.82 415.29 L164.99 415.80 L166.16 416.31 L167.33 416.82 L168.50 417.34 L169.66 417.85 L170.83 418.36 L172.00 419.19 L173.17 420.02 L174.34 420.86 L175.50 421.69 L176.67 422.52 L177.84 423.35 L179.01 424.44 L180.18 425.01 L181.34 426.27 L182.51 427.41 L183.68 428.53 L184.85 429.49 L186.02 430.67 L187.18 431.95 L188.35 433.19 L189.52 434.57 L190.69 436.15 L191.86 437.35 L193.02 438.71 L194.19 439.87 L195.36 440.66 L196.53 440.85 L197.70 440.98 L198.86 441.09 L200.03 441.23 L201.20 441.73 L202.37 441.73 L203.54 442.09 L204.70 442.47 L205.87 442.76 L207.04 442.94 L208.21 443.07 L209.38 443.50 L210.54 444.22 L211.71 445.26 L212.88 446.29 L214.05 447.01 L215.22 448.35 L216.38 450.16 L217.55 451.38 L218.72 452.81 L219.89 453.97 L221.06 456.11 L222.22 458.63 L223.39 460.48 L224.56 462.73 L225.73 465.95 L226.90 468.73 L228.06 471.84 L229.23 474.15 L230.40 475.58 L231.57 475.38 L232.74 475.38 L233.90 475.40 L235.07 475.36 L236.24 475.48 L237.41 475.77 L238.58 475.48 L239.74 475.85 L240.91 475.77 L242.08 475.40 L243.25 475.85 L244.42 475.83 L245.58 475.84 L246.75 475.37 L247.92 475.81 L249.09 475.91 L250.26 475.42 L251.42 475.87 L252.59 475.44 L253.76 475.55 L254.93 475.46 L256.10 475.40 L257.26 475.64 L258.43 475.51 L259.60 475.99" fill="none" stroke="#2020b4" stroke-width="2.3" stroke-linejoin="round"/>
<text x="26.00" y="517.8" font-size="9.8" fill="#151515" text-anchor="middle" stroke="#151515">0</text>
<text x="84.40" y="517.8" font-size="9.8" fill="#151515" text-anchor="middle" stroke="#151515">0.5</text>
<text x="142.80" y="517.8" font-size="9.8" fill="#151515" text-anchor="middle" stroke="#151515">1</text>
<text x="201.20" y="517.8" font-size="9.8" fill="#151515" text-anchor="middle" stroke="#151515">1.5</text>
<text x="259.60" y="517.8" font-size="9.8" fill="#151515" text-anchor="middle" stroke="#151515">2</text>
<text x="22.9" y="508.90" font-size="9.8" fill="#151515" text-anchor="end" stroke="#151515">0</text>
<text x="22.9" y="457.70" font-size="9.8" fill="#151515" text-anchor="end" stroke="#151515">0.5</text>
<text x="22.9" y="406.50" font-size="9.8" fill="#151515" text-anchor="end" stroke="#151515">1</text>
<text x="32" y="389.5" font-size="12" fill="#151515" text-anchor="start" stroke="#151515">(f1)</text>
<text x="145.3" y="388.7" font-size="12" fill="#151515" text-anchor="middle" stroke="#151515">Single</text>
<rect x="285.6" y="392.7" width="231.7" height="111.3" fill="#fff" stroke="#c4c4c4" stroke-width="0.9"/>
<line x1="285.6" y1="504" x2="285.6" y2="501.7" stroke="#c4c4c4" stroke-width="0.9"/>
<line x1="285.6" y1="392.7" x2="285.6" y2="395" stroke="#c4c4c4" stroke-width="0.9"/>
<line x1="343.525" y1="504" x2="343.525" y2="501.7" stroke="#c4c4c4" stroke-width="0.9"/>
<line x1="343.525" y1="392.7" x2="343.525" y2="395" stroke="#c4c4c4" stroke-width="0.9"/>
<line x1="401.45" y1="504" x2="401.45" y2="501.7" stroke="#c4c4c4" stroke-width="0.9"/>
<line x1="401.45" y1="392.7" x2="401.45" y2="395" stroke="#c4c4c4" stroke-width="0.9"/>
<line x1="459.375" y1="504" x2="459.375" y2="501.7" stroke="#c4c4c4" stroke-width="0.9"/>
<line x1="459.375" y1="392.7" x2="459.375" y2="395" stroke="#c4c4c4" stroke-width="0.9"/>
<line x1="517.3" y1="504" x2="517.3" y2="501.7" stroke="#c4c4c4" stroke-width="0.9"/>
<line x1="517.3" y1="392.7" x2="517.3" y2="395" stroke="#c4c4c4" stroke-width="0.9"/>
<line x1="285.6" y1="504.2" x2="287.9" y2="504.2" stroke="#c4c4c4" stroke-width="0.9"/>
<line x1="517.3" y1="504.2" x2="515" y2="504.2" stroke="#c4c4c4" stroke-width="0.9"/>
<line x1="285.6" y1="453.6" x2="287.9" y2="453.6" stroke="#c4c4c4" stroke-width="0.9"/>
<line x1="517.3" y1="453.6" x2="515" y2="453.6" stroke="#c4c4c4" stroke-width="0.9"/>
<line x1="285.6" y1="403" x2="287.9" y2="403" stroke="#c4c4c4" stroke-width="0.9"/>
<line x1="517.3" y1="403" x2="515" y2="403" stroke="#c4c4c4" stroke-width="0.9"/>
<path d="M285.60 403.00 C295.25 403.00 331.94 402.97 343.52 403.00 C355.11 403.03 349.90 402.78 355.11 403.20 C360.32 403.62 367.66 405.23 374.80 405.53 C381.95 405.83 391.60 404.80 397.97 405.02 C404.35 405.24 407.44 406.34 413.03 406.85 C418.63 407.35 426.36 408.04 431.57 408.06 C436.78 408.08 439.68 407.13 444.31 406.95 C448.95 406.76 454.74 406.49 459.38 406.95 C464.01 407.40 467.48 408.31 472.12 409.68 C476.75 411.05 482.54 413.02 487.18 415.14 C491.81 417.27 496.06 419.98 499.92 422.43 C503.78 424.88 507.45 427.24 510.35 429.82 C513.25 432.40 516.14 436.56 517.30 437.91" fill="none" stroke="#c42a2a" stroke-width="2.3" stroke-linejoin="round"/>
<line x1="285.6" y1="403.02" x2="517.3" y2="403.02" stroke="#2eb82e" stroke-width="2.3"/>
<line x1="285.6" y1="403.24" x2="517.3" y2="403.24" stroke="#2020b4" stroke-width="2.3"/>
<text x="285.60" y="517" font-size="9.8" fill="#151515" text-anchor="middle" stroke="#151515">0</text>
<text x="343.52" y="517" font-size="9.8" fill="#151515" text-anchor="middle" stroke="#151515">0.5</text>
<text x="401.45" y="517" font-size="9.8" fill="#151515" text-anchor="middle" stroke="#151515">1</text>
<text x="459.38" y="517" font-size="9.8" fill="#151515" text-anchor="middle" stroke="#151515">1.5</text>
<text x="517.30" y="517" font-size="9.8" fill="#151515" text-anchor="middle" stroke="#151515">2</text>
<text x="282.3" y="507.70" font-size="9.8" fill="#151515" text-anchor="end" stroke="#151515">0</text>
<text x="282.3" y="457.10" font-size="9.8" fill="#151515" text-anchor="end" stroke="#151515">0.5</text>
<text x="282.3" y="406.50" font-size="9.8" fill="#151515" text-anchor="end" stroke="#151515">1</text>
<text x="291" y="389.5" font-size="12" fill="#151515" text-anchor="start" stroke="#151515">(f2)</text>
<text x="399.1" y="388.4" font-size="12.2" fill="#151515" text-anchor="middle" stroke="#151515">Alternating</text>
<text class="h" x="68.5" y="433.6" font-size="11.5" fill="#c42a2a" style="font-family:Liberation Serif,serif" stroke="#c42a2a"><tspan font-style="italic">γ</tspan> = 0.4946</text>
<line x1="69.3" y1="425.3" x2="73.7" y2="425.3" stroke="#c42a2a" stroke-width="0.8"/>
<text class="h" x="68.5" y="446.2" font-size="11.5" fill="#2eb82e" style="font-family:Liberation Serif,serif" stroke="#2eb82e"><tspan font-style="italic">γ</tspan> = 0.5512</text>
<line x1="69.3" y1="437.9" x2="73.7" y2="437.9" stroke="#2eb82e" stroke-width="0.8"/>
<text class="h" x="68.5" y="457.8" font-size="11.5" fill="#2020b4" style="font-family:Liberation Serif,serif" stroke="#2020b4"><tspan font-style="italic">γ</tspan> = 0.6511</text>
<line x1="69.3" y1="449.5" x2="73.7" y2="449.5" stroke="#2020b4" stroke-width="0.8"/>
<text class="h" x="419" y="440.8" font-size="11.5" fill="#c42a2a" style="font-family:Liberation Serif,serif" stroke="#c42a2a"><tspan font-style="italic">γ</tspan> = 0.9143</text>
<line x1="419.8" y1="432.5" x2="424.2" y2="432.5" stroke="#c42a2a" stroke-width="0.8"/>
<text class="h" x="419" y="455.4" font-size="11.5" fill="#2eb82e" style="font-family:Liberation Serif,serif" stroke="#2eb82e"><tspan font-style="italic">γ</tspan> = 0.9998</text>
<line x1="419.8" y1="447.1" x2="424.2" y2="447.1" stroke="#2eb82e" stroke-width="0.8"/>
<text class="h" x="419" y="467.8" font-size="11.5" fill="#2020b4" style="font-family:Liberation Serif,serif" stroke="#2020b4"><tspan font-style="italic">γ</tspan> = 0.9996</text>
<line x1="419.8" y1="459.5" x2="424.2" y2="459.5" stroke="#2020b4" stroke-width="0.8"/>
<text x="143.5" y="527.6" font-size="9.5" fill="#151515" text-anchor="middle" style="font-family:Liberation Serif,serif;font-style:italic" stroke="#151515">ρ</text>
<text x="401.5" y="525.6" font-size="9.5" fill="#151515" text-anchor="middle" style="font-family:Liberation Serif,serif;font-style:italic" stroke="#151515">ρ</text>
<text x="229.6" y="525.8" font-size="9.8" fill="#151515" stroke="#151515">×NA<tspan font-size="7.6" dy="0.3">obj</tspan><tspan dy="-0.3">/λ</tspan><tspan font-size="7.6" dy="0.3">b</tspan></text>
<text x="475.8" y="526.3" font-size="9.8" fill="#151515" stroke="#151515">×NA<tspan font-size="7.6" dy="0.3">obj</tspan><tspan dy="-0.3">/λ</tspan><tspan font-size="7.6" dy="0.3">b</tspan></text>
<text x="195" y="414.2" font-size="11" fill="#151515" style="font-family:Liberation Serif,serif;font-style:italic" stroke="#151515">ρ<tspan font-size="7" dy="2">r _cutoff</tspan></text>
<text x="221.7" y="442.8" font-size="11" fill="#151515" style="font-family:Liberation Serif,serif;font-style:italic" stroke="#151515">ρ<tspan font-size="7" dy="2">g _cutoff</tspan></text>
<line x1="201.20" y1="424.20" x2="196.18" y2="432.76" stroke="#000" stroke-width="1.8"/>
<path d="M193.40 437.50 L193.42 431.14 L198.94 434.37 Z" fill="#000"/>
<line x1="235.70" y1="451.90" x2="231.11" y2="465.97" stroke="#000" stroke-width="1.8"/>
<path d="M229.40 471.20 L228.06 464.98 L234.15 466.96 Z" fill="#000"/>
<line x1="498.50" y1="408.20" x2="491.85" y2="405.23" stroke="#2020b4" stroke-width="1.5"/>
<path d="M488.20 403.60 L492.87 402.95 L490.83 407.51 Z" fill="#2020b4"/>
<line x1="406.8" y1="419.4" x2="414.2" y2="402.2" stroke="#2eb82e" stroke-width="1.8"/>
<text x="493.2" y="418.8" font-size="11" fill="#151515" text-anchor="start" stroke="#151515">Blue</text>
<text x="383.6" y="430.2" font-size="11.2" fill="#151515" text-anchor="start" stroke="#151515">Green</text>
<line x1="37.3" y1="494" x2="50.8" y2="494" stroke="#c42a2a" stroke-width="2.6"/>
<text x="53.2" y="497.6" font-size="10" fill="#151515" stroke="#151515">Tri-mode</text>
<line x1="100.6" y1="494" x2="114.2" y2="494" stroke="#2eb82e" stroke-width="2.6"/>
<text x="116.4" y="497.6" font-size="10" fill="#151515" stroke="#151515">Sine circle</text>
<line x1="171.8" y1="494" x2="185.4" y2="494" stroke="#2020b4" stroke-width="2.6"/>
<text x="189.6" y="497.6" font-size="10" fill="#151515" stroke="#151515">Sine annular</text>
<line x1="295.3" y1="494" x2="308.8" y2="494" stroke="#c42a2a" stroke-width="2.6"/>
<text x="311.2" y="497.6" font-size="10" fill="#151515" stroke="#151515">Tri-mode</text>
<line x1="358.6" y1="494" x2="372.2" y2="494" stroke="#2eb82e" stroke-width="2.6"/>
<text x="374.4" y="497.6" font-size="10" fill="#151515" stroke="#151515">Sine circle</text>
<line x1="429.8" y1="494" x2="443.4" y2="494" stroke="#2020b4" stroke-width="2.6"/>
<text x="447.6" y="497.6" font-size="10" fill="#151515" stroke="#151515">Sine annular</text>
<text transform="translate(7.5 455) rotate(-90)" font-size="9" fill="#151515" text-anchor="middle" style="font-family:Liberation Serif,serif;font-style:italic" stroke="#151515">γ</text>
<text transform="translate(267.5 455) rotate(-90)" font-size="9" fill="#151515" text-anchor="middle" style="font-family:Liberation Serif,serif;font-style:italic" stroke="#151515">γ</text>
</svg>
<div class="sc"></div>
</body></html>
